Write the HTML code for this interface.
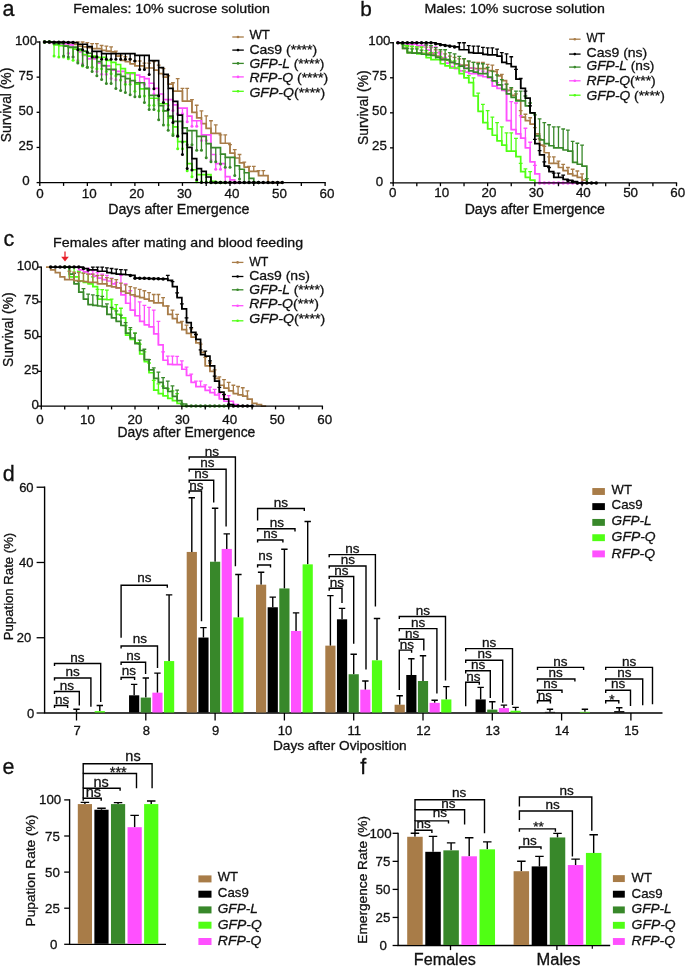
<!DOCTYPE html>
<html><head><meta charset="utf-8"><title>Figure</title>
<style>html,body{margin:0;padding:0;background:#fff}svg{display:block}</style></head>
<body>
<svg width="685" height="966" viewBox="0 0 685 966" font-family="'Liberation Sans', Arial, sans-serif">
<style>text{stroke:#101010;stroke-width:0.3px;paint-order:stroke fill}</style>
<rect width="685" height="966" fill="#ffffff"/>
<path d="M77.84 46.22V42M75.94 42H79.74M82.59 46.92V42M80.69 42H84.5M87.35 47.62V42.7M85.45 42.7H89.25M92.1 48.56V43.64M90.2 43.64H94M96.86 48.56V43.64M94.96 43.64H98.76M101.61 50.44V45.52M99.71 45.52H103.52M106.37 51.14V46.22M104.47 46.22H108.27M111.12 51.84V46.92M109.22 46.92H113.03M115.88 56.06V51.14M113.98 51.14H117.78M120.63 60.28V55.36M118.73 55.36H122.53M125.39 61.68V56.76M123.49 56.76H127.29M130.14 63.79V58.87M128.24 58.87H132.04M134.9 65.9V60.98M133 60.98H136.8M139.66 65.9V60.98M137.75 60.98H141.56M144.41 68.01V63.09M142.51 63.09H146.31M149.16 68.01V63.09M147.26 63.09H151.06M153.92 70.12V61.68M152.02 61.68H155.82M158.68 73.64V65.2M156.78 65.2H160.58M163.43 77.15V68.71M161.53 68.71H165.33M168.19 84.18V75.74M166.28 75.74H170.09M172.94 91.21V82.77M171.04 82.77H174.84M177.69 91.21V78.56M175.79 78.56H179.59M182.45 101.05V88.4M180.55 88.4H184.35M187.2 101.05V88.4M185.3 88.4H189.1M191.96 112.3V99.65M190.06 99.65H193.86M196.71 117.92V105.27M194.81 105.27H198.61M201.47 123.55V110.89M199.57 110.89H203.37M206.22 128.47V115.81M204.32 115.81H208.12M210.98 133.39V120.74M209.08 120.74H212.88M215.74 133.39V124.95M213.84 124.95H217.64M220.49 143.23V134.8M218.59 134.8H222.39M225.25 143.23V134.8M223.34 134.8H227.15M230 153.07V144.64M228.1 144.64H231.9M234.75 158V149.56M232.85 149.56H236.66M239.51 162.92V154.48M237.61 154.48H241.41M244.26 167.13V162.21M242.36 162.21H246.16M249.02 171.35V166.43M247.12 166.43H250.92M253.77 171.35V166.43M251.87 166.43H255.67M258.53 175.57V170.65M256.63 170.65H260.43M263.28 175.57V170.65M261.38 170.65H265.18" stroke="#A87C48" stroke-width="1.3" fill="none" stroke-linejoin="miter"/>
<path d="M44.55 42H49.31V42.35H54.06V42.7H58.82V42.7H63.57V43.41H68.33V44.34H73.08V44.34H77.84V46.22H82.59V46.92H87.35V47.62H92.1V48.56H96.86V48.56H101.61V50.44H106.37V51.14H111.12V51.84H115.88V56.06H120.63V60.28H125.39V61.68H130.14V63.79H134.9V65.9H139.66V65.9H144.41V68.01H149.16V68.01H153.92V70.12H158.68V73.64H163.43V77.15H168.19V84.18H172.94V91.21H177.69V91.21H182.45V101.05H187.2V101.05H191.96V112.3H196.71V117.92H201.47V123.55H206.22V128.47H210.98V133.39H215.74V133.39H220.49V143.23H225.25V143.23H230V153.07H234.75V158H239.51V162.92H244.26V167.13H249.02V171.35H253.77V171.35H258.53V175.57H263.28V175.57H268.04V182.6H272.8V182.6H277.55V182.6H282.31V182.6" stroke="#A87C48" stroke-width="1.7" fill="none" stroke-linejoin="miter"/>
<circle cx="44.55" cy="42" r="1.75" fill="#FF50FF"/>
<circle cx="49.31" cy="42.56" r="1.75" fill="#FF50FF"/>
<circle cx="54.06" cy="42.56" r="1.75" fill="#FF50FF"/>
<circle cx="58.82" cy="43.69" r="1.75" fill="#FF50FF"/>
<circle cx="63.57" cy="43.69" r="1.75" fill="#FF50FF"/>
<circle cx="68.33" cy="53.25" r="1.5" fill="#FF50FF"/>
<circle cx="73.08" cy="56.76" r="1.5" fill="#FF50FF"/>
<circle cx="77.84" cy="60.28" r="1.5" fill="#FF50FF"/>
<circle cx="82.59" cy="63.79" r="1.5" fill="#FF50FF"/>
<circle cx="87.35" cy="67.31" r="1.5" fill="#FF50FF"/>
<circle cx="92.1" cy="67.31" r="1.5" fill="#FF50FF"/>
<circle cx="96.86" cy="71.53" r="1.5" fill="#FF50FF"/>
<circle cx="101.61" cy="74.34" r="1.5" fill="#FF50FF"/>
<circle cx="106.37" cy="74.34" r="1.5" fill="#FF50FF"/>
<circle cx="111.12" cy="78.56" r="1.5" fill="#FF50FF"/>
<circle cx="115.88" cy="79.73" r="1.5" fill="#FF50FF"/>
<circle cx="120.63" cy="79.73" r="1.5" fill="#FF50FF"/>
<circle cx="125.39" cy="82.07" r="1.5" fill="#FF50FF"/>
<circle cx="130.14" cy="82.07" r="1.5" fill="#FF50FF"/>
<circle cx="134.9" cy="80.67" r="1.5" fill="#FF50FF"/>
<circle cx="139.66" cy="82.42" r="1.5" fill="#FF50FF"/>
<circle cx="144.41" cy="84.18" r="1.5" fill="#FF50FF"/>
<circle cx="149.16" cy="88.87" r="1.5" fill="#FF50FF"/>
<circle cx="153.92" cy="94.02" r="1.5" fill="#FF50FF"/>
<circle cx="158.68" cy="99.65" r="1.5" fill="#FF50FF"/>
<circle cx="163.43" cy="105.27" r="1.5" fill="#FF50FF"/>
<circle cx="168.19" cy="105.27" r="1.5" fill="#FF50FF"/>
<circle cx="172.94" cy="110.54" r="1.5" fill="#FF50FF"/>
<circle cx="177.69" cy="113.81" r="1.5" fill="#FF50FF"/>
<circle cx="182.45" cy="113.81" r="1.5" fill="#FF50FF"/>
<circle cx="187.2" cy="121.67" r="1.5" fill="#FF50FF"/>
<circle cx="191.96" cy="126.36" r="1.5" fill="#FF50FF"/>
<circle cx="196.71" cy="126.36" r="1.5" fill="#FF50FF"/>
<circle cx="201.47" cy="140.42" r="1.5" fill="#FF50FF"/>
<circle cx="206.22" cy="140.42" r="1.5" fill="#FF50FF"/>
<circle cx="210.98" cy="160.1" r="1.5" fill="#FF50FF"/>
<circle cx="215.74" cy="169.24" r="1.5" fill="#FF50FF"/>
<circle cx="220.49" cy="169.24" r="1.5" fill="#FF50FF"/>
<circle cx="225.25" cy="182.34" r="1.5" fill="#FF50FF"/>
<circle cx="230" cy="182.6" r="1.5" fill="#FF50FF"/>
<circle cx="234.75" cy="182.6" r="1.75" fill="#FF50FF"/>
<circle cx="239.51" cy="182.6" r="1.75" fill="#FF50FF"/>
<path d="M68.33 44.81V53.25M73.08 48.33V56.76M77.84 51.84V60.28M82.59 55.36V63.79M87.35 58.87V67.31M92.1 58.87V67.31M96.86 63.09V71.53M101.61 65.9V74.34M106.37 65.9V74.34M111.12 70.12V78.56M115.88 71.29V79.73M120.63 71.29V79.73M125.39 73.64V82.07M130.14 73.64V82.07M134.9 75.04V80.67M139.66 76.8V82.42M144.41 78.56V84.18M149.16 83.24V88.87M153.92 88.4V94.02M158.68 94.02V99.65M163.43 99.65V105.27M168.19 99.65V105.27M172.94 104.92V110.54M177.69 108.18V113.81M182.45 108.18V113.81M187.2 116.05V121.67M191.96 120.74V126.36M196.71 120.74V126.36M201.47 134.8V140.42M206.22 134.8V140.42M210.98 154.48V160.1M215.74 163.62V169.24M220.49 163.62V169.24M225.25 176.71V182.34M230 179.79V182.6" stroke="#FF50FF" stroke-width="1.3" fill="none" stroke-linejoin="miter"/>
<path d="M44.55 42H49.31V42.56H54.06V42.56H58.82V43.69H63.57V43.69H68.33V44.81H73.08V48.33H77.84V51.84H82.59V55.36H87.35V58.87H92.1V58.87H96.86V63.09H101.61V65.9H106.37V65.9H111.12V70.12H115.88V71.29H120.63V71.29H125.39V73.64H130.14V73.64H134.9V75.04H139.66V76.8H144.41V78.56H149.16V83.24H153.92V88.4H158.68V94.02H163.43V99.65H168.19V99.65H172.94V104.92H177.69V108.18H182.45V108.18H187.2V116.05H191.96V120.74H196.71V120.74H201.47V134.8H206.22V134.8H210.98V154.48H215.74V163.62H220.49V163.62H225.25V176.71H230V179.79H234.75V182.6H239.51V182.6" stroke="#FF50FF" stroke-width="1.7" fill="none" stroke-linejoin="miter"/>
<circle cx="44.55" cy="42" r="1.75" fill="#50FF14"/>
<circle cx="49.31" cy="42" r="1.75" fill="#50FF14"/>
<circle cx="54.06" cy="56.06" r="1.5" fill="#50FF14"/>
<circle cx="58.82" cy="57" r="1.5" fill="#50FF14"/>
<circle cx="63.57" cy="57" r="1.5" fill="#50FF14"/>
<circle cx="68.33" cy="58.87" r="1.5" fill="#50FF14"/>
<circle cx="73.08" cy="60.28" r="1.5" fill="#50FF14"/>
<circle cx="77.84" cy="61.68" r="1.5" fill="#50FF14"/>
<circle cx="82.59" cy="65.9" r="1.5" fill="#50FF14"/>
<circle cx="87.35" cy="67.31" r="1.5" fill="#50FF14"/>
<circle cx="92.1" cy="67.31" r="1.5" fill="#50FF14"/>
<circle cx="96.86" cy="68.71" r="1.5" fill="#50FF14"/>
<circle cx="101.61" cy="68.71" r="1.5" fill="#50FF14"/>
<circle cx="106.37" cy="71.53" r="1.5" fill="#50FF14"/>
<circle cx="111.12" cy="73.64" r="1.5" fill="#50FF14"/>
<circle cx="115.88" cy="75.74" r="1.5" fill="#50FF14"/>
<circle cx="120.63" cy="79.96" r="1.5" fill="#50FF14"/>
<circle cx="125.39" cy="84.18" r="1.5" fill="#50FF14"/>
<circle cx="130.14" cy="84.18" r="1.5" fill="#50FF14"/>
<circle cx="134.9" cy="91.21" r="1.5" fill="#50FF14"/>
<circle cx="139.66" cy="95.9" r="1.5" fill="#50FF14"/>
<circle cx="144.41" cy="95.9" r="1.5" fill="#50FF14"/>
<circle cx="149.16" cy="105.27" r="1.5" fill="#50FF14"/>
<circle cx="153.92" cy="105.27" r="1.5" fill="#50FF14"/>
<circle cx="158.68" cy="110.79" r="1.5" fill="#50FF14"/>
<circle cx="163.43" cy="110.79" r="1.5" fill="#50FF14"/>
<circle cx="168.19" cy="124.95" r="1.5" fill="#50FF14"/>
<circle cx="172.94" cy="133.99" r="1.5" fill="#50FF14"/>
<circle cx="177.69" cy="148.73" r="1.5" fill="#50FF14"/>
<circle cx="182.45" cy="148.73" r="1.5" fill="#50FF14"/>
<circle cx="187.2" cy="170.65" r="1.5" fill="#50FF14"/>
<circle cx="191.96" cy="176.8" r="1.5" fill="#50FF14"/>
<circle cx="196.71" cy="181.7" r="1.5" fill="#50FF14"/>
<circle cx="201.47" cy="181.7" r="1.5" fill="#50FF14"/>
<circle cx="206.22" cy="181.7" r="1.5" fill="#50FF14"/>
<circle cx="210.98" cy="181.38" r="1.75" fill="#50FF14"/>
<circle cx="215.74" cy="182.6" r="1.75" fill="#50FF14"/>
<circle cx="220.49" cy="182.6" r="1.75" fill="#50FF14"/>
<circle cx="225.25" cy="182.6" r="1.75" fill="#50FF14"/>
<path d="M54.06 44.81V56.06M58.82 45.75V57M63.57 45.75V57M68.33 47.62V58.87M73.08 49.03V60.28M77.84 50.44V61.68M82.59 54.65V65.9M87.35 56.06V67.31M92.1 56.06V67.31M96.86 57.47V68.71M101.61 57.47V68.71M106.37 60.28V71.53M111.12 62.39V73.64M115.88 64.5V75.74M120.63 68.71V79.96M125.39 72.93V84.18M130.14 72.93V84.18M134.9 84.18V91.21M139.66 88.87V95.9M144.41 88.87V95.9M149.16 98.24V105.27M153.92 98.24V105.27M158.68 103.76V110.79M163.43 103.76V110.79M168.19 117.92V124.95M172.94 126.96V133.99M177.69 141.7V148.73M182.45 141.7V148.73M187.2 163.62V170.65M191.96 169.77V176.8M196.71 174.67V181.7M201.47 174.67V181.7M206.22 174.67V181.7" stroke="#50FF14" stroke-width="1.3" fill="none" stroke-linejoin="miter"/>
<path d="M44.55 42H49.31V42H54.06V44.81H58.82V45.75H63.57V45.75H68.33V47.62H73.08V49.03H77.84V50.44H82.59V54.65H87.35V56.06H92.1V56.06H96.86V57.47H101.61V57.47H106.37V60.28H111.12V62.39H115.88V64.5H120.63V68.71H125.39V72.93H130.14V72.93H134.9V84.18H139.66V88.87H144.41V88.87H149.16V98.24H153.92V98.24H158.68V103.76H163.43V103.76H168.19V117.92H172.94V126.96H177.69V141.7H182.45V141.7H187.2V163.62H191.96V169.77H196.71V174.67H201.47V174.67H206.22V174.67H210.98V181.38H215.74V182.6H220.49V182.6H225.25V182.6" stroke="#50FF14" stroke-width="1.7" fill="none" stroke-linejoin="miter"/>
<circle cx="44.55" cy="42" r="1.75" fill="#38882A"/>
<circle cx="49.31" cy="42" r="1.75" fill="#38882A"/>
<circle cx="54.06" cy="43.41" r="1.75" fill="#38882A"/>
<circle cx="58.82" cy="43.41" r="1.75" fill="#38882A"/>
<circle cx="63.57" cy="56.06" r="1.5" fill="#38882A"/>
<circle cx="68.33" cy="57" r="1.5" fill="#38882A"/>
<circle cx="73.08" cy="57" r="1.5" fill="#38882A"/>
<circle cx="77.84" cy="63.09" r="1.5" fill="#38882A"/>
<circle cx="82.59" cy="65.2" r="1.5" fill="#38882A"/>
<circle cx="87.35" cy="67.31" r="1.5" fill="#38882A"/>
<circle cx="92.1" cy="71.53" r="1.5" fill="#38882A"/>
<circle cx="96.86" cy="75.74" r="1.5" fill="#38882A"/>
<circle cx="101.61" cy="79.61" r="1.5" fill="#38882A"/>
<circle cx="106.37" cy="83.48" r="1.5" fill="#38882A"/>
<circle cx="111.12" cy="83.48" r="1.5" fill="#38882A"/>
<circle cx="115.88" cy="88.4" r="1.5" fill="#38882A"/>
<circle cx="120.63" cy="90.51" r="1.5" fill="#38882A"/>
<circle cx="125.39" cy="92.62" r="1.5" fill="#38882A"/>
<circle cx="130.14" cy="94.72" r="1.5" fill="#38882A"/>
<circle cx="134.9" cy="96.83" r="1.5" fill="#38882A"/>
<circle cx="139.66" cy="96.83" r="1.5" fill="#38882A"/>
<circle cx="144.41" cy="102.46" r="1.5" fill="#38882A"/>
<circle cx="149.16" cy="109.49" r="1.5" fill="#38882A"/>
<circle cx="153.92" cy="109.49" r="1.5" fill="#38882A"/>
<circle cx="158.68" cy="119.8" r="1.5" fill="#38882A"/>
<circle cx="163.43" cy="124.95" r="1.5" fill="#38882A"/>
<circle cx="168.19" cy="130.23" r="1.5" fill="#38882A"/>
<circle cx="172.94" cy="135.5" r="1.5" fill="#38882A"/>
<circle cx="177.69" cy="135.5" r="1.5" fill="#38882A"/>
<circle cx="182.45" cy="141.93" r="1.5" fill="#38882A"/>
<circle cx="187.2" cy="144.64" r="1.5" fill="#38882A"/>
<circle cx="191.96" cy="144.64" r="1.5" fill="#38882A"/>
<circle cx="196.71" cy="150.37" r="1.5" fill="#38882A"/>
<circle cx="201.47" cy="150.37" r="1.5" fill="#38882A"/>
<circle cx="206.22" cy="157.64" r="1.5" fill="#38882A"/>
<circle cx="210.98" cy="161.7" r="1.5" fill="#38882A"/>
<circle cx="215.74" cy="161.7" r="1.5" fill="#38882A"/>
<circle cx="220.49" cy="164.01" r="1.5" fill="#38882A"/>
<circle cx="225.25" cy="167.13" r="1.5" fill="#38882A"/>
<circle cx="230" cy="167.13" r="1.5" fill="#38882A"/>
<circle cx="234.75" cy="175.57" r="1.5" fill="#38882A"/>
<circle cx="239.51" cy="179.09" r="1.5" fill="#38882A"/>
<circle cx="244.26" cy="182.6" r="1.5" fill="#38882A"/>
<circle cx="249.02" cy="182.6" r="1.5" fill="#38882A"/>
<circle cx="253.77" cy="182.6" r="1.75" fill="#38882A"/>
<circle cx="258.53" cy="182.6" r="1.75" fill="#38882A"/>
<path d="M63.57 46.22V56.06M68.33 47.16V57M73.08 47.16V57M77.84 49.03V63.09M82.59 51.14V65.2M87.35 53.25V67.31M92.1 57.47V71.53M96.86 61.68V75.74M101.61 65.55V79.61M106.37 69.42V83.48M111.12 69.42V83.48M115.88 74.34V88.4M120.63 76.45V90.51M125.39 78.56V92.62M130.14 80.67V94.72M134.9 82.77V96.83M139.66 82.77V96.83M144.41 88.4V102.46M149.16 95.43V109.49M153.92 95.43V109.49M158.68 105.74V119.8M163.43 110.89V124.95M168.19 116.17V130.23M172.94 121.44V135.5M177.69 121.44V135.5M182.45 127.87V141.93M187.2 130.58V144.64M191.96 130.58V144.64M196.71 136.31V150.37M201.47 136.31V150.37M206.22 143.58V157.64M210.98 147.64V161.7M215.74 147.64V161.7M220.49 154.17V164.01M225.25 157.29V167.13M230 157.29V167.13M234.75 165.73V175.57M239.51 169.24V179.09M244.26 172.76V182.6M249.02 178.38V182.6" stroke="#38882A" stroke-width="1.3" fill="none" stroke-linejoin="miter"/>
<path d="M44.55 42H49.31V42H54.06V43.41H58.82V43.41H63.57V46.22H68.33V47.16H73.08V47.16H77.84V49.03H82.59V51.14H87.35V53.25H92.1V57.47H96.86V61.68H101.61V65.55H106.37V69.42H111.12V69.42H115.88V74.34H120.63V76.45H125.39V78.56H130.14V80.67H134.9V82.77H139.66V82.77H144.41V88.4H149.16V95.43H153.92V95.43H158.68V105.74H163.43V110.89H168.19V116.17H172.94V121.44H177.69V121.44H182.45V127.87H187.2V130.58H191.96V130.58H196.71V136.31H201.47V136.31H206.22V143.58H210.98V147.64H215.74V147.64H220.49V154.17H225.25V157.29H230V157.29H234.75V165.73H239.51V169.24H244.26V172.76H249.02V178.38H253.77V182.6H258.53V182.6" stroke="#38882A" stroke-width="1.7" fill="none" stroke-linejoin="miter"/>
<circle cx="44.55" cy="42" r="1.75" fill="#000000"/>
<circle cx="49.31" cy="42.09" r="1.75" fill="#000000"/>
<circle cx="54.06" cy="42.19" r="1.75" fill="#000000"/>
<circle cx="58.82" cy="42.19" r="1.75" fill="#000000"/>
<circle cx="63.57" cy="42.37" r="1.75" fill="#000000"/>
<circle cx="68.33" cy="42.47" r="1.75" fill="#000000"/>
<circle cx="73.08" cy="42.56" r="1.75" fill="#000000"/>
<circle cx="77.84" cy="49.87" r="1.5" fill="#000000"/>
<circle cx="82.59" cy="49.87" r="1.5" fill="#000000"/>
<circle cx="87.35" cy="52.26" r="1.5" fill="#000000"/>
<circle cx="92.1" cy="56.9" r="1.5" fill="#000000"/>
<circle cx="96.86" cy="56.9" r="1.5" fill="#000000"/>
<circle cx="101.61" cy="59.15" r="1.5" fill="#000000"/>
<circle cx="106.37" cy="59.15" r="1.5" fill="#000000"/>
<circle cx="111.12" cy="59.15" r="1.5" fill="#000000"/>
<circle cx="115.88" cy="59.15" r="1.5" fill="#000000"/>
<circle cx="120.63" cy="59.15" r="1.5" fill="#000000"/>
<circle cx="125.39" cy="59.15" r="1.5" fill="#000000"/>
<circle cx="130.14" cy="59.15" r="1.5" fill="#000000"/>
<circle cx="134.9" cy="60.98" r="1.5" fill="#000000"/>
<circle cx="139.66" cy="69.42" r="1.5" fill="#000000"/>
<circle cx="144.41" cy="69.42" r="1.5" fill="#000000"/>
<circle cx="149.16" cy="74.62" r="1.5" fill="#000000"/>
<circle cx="153.92" cy="88.68" r="1.5" fill="#000000"/>
<circle cx="158.68" cy="95.71" r="1.5" fill="#000000"/>
<circle cx="163.43" cy="102.46" r="1.5" fill="#000000"/>
<circle cx="168.19" cy="109.49" r="1.5" fill="#000000"/>
<circle cx="172.94" cy="122.56" r="1.5" fill="#000000"/>
<circle cx="177.69" cy="136.2" r="1.5" fill="#000000"/>
<circle cx="182.45" cy="154.48" r="1.5" fill="#000000"/>
<circle cx="187.2" cy="168.54" r="1.5" fill="#000000"/>
<circle cx="191.96" cy="169.95" r="1.5" fill="#000000"/>
<circle cx="196.71" cy="179.79" r="1.5" fill="#000000"/>
<circle cx="201.47" cy="182.6" r="1.5" fill="#000000"/>
<circle cx="206.22" cy="182.6" r="1.5" fill="#000000"/>
<circle cx="210.98" cy="182.6" r="1.75" fill="#000000"/>
<circle cx="215.74" cy="182.6" r="1.75" fill="#000000"/>
<circle cx="220.49" cy="182.6" r="1.75" fill="#000000"/>
<circle cx="225.25" cy="182.6" r="1.75" fill="#000000"/>
<circle cx="230" cy="182.6" r="1.75" fill="#000000"/>
<circle cx="234.75" cy="182.6" r="1.75" fill="#000000"/>
<circle cx="239.51" cy="182.6" r="1.75" fill="#000000"/>
<circle cx="244.26" cy="182.6" r="1.75" fill="#000000"/>
<circle cx="249.02" cy="182.6" r="1.75" fill="#000000"/>
<circle cx="253.77" cy="182.6" r="1.75" fill="#000000"/>
<circle cx="258.53" cy="182.6" r="1.75" fill="#000000"/>
<circle cx="263.28" cy="182.6" r="1.75" fill="#000000"/>
<circle cx="268.04" cy="182.6" r="1.75" fill="#000000"/>
<circle cx="272.8" cy="182.6" r="1.75" fill="#000000"/>
<circle cx="277.55" cy="182.6" r="1.75" fill="#000000"/>
<circle cx="282.31" cy="182.6" r="1.75" fill="#000000"/>
<path d="M77.84 44.25V49.87M82.59 44.25V49.87M87.35 46.64V52.26M92.1 51.28V56.9M96.86 51.28V56.9M101.61 53.53V59.15M106.37 53.53V59.15M111.12 53.53V59.15M115.88 53.53V59.15M120.63 53.53V59.15M125.39 53.53V59.15M130.14 53.53V59.15M134.9 55.36V60.98M139.66 55.36V69.42M144.41 55.36V69.42M149.16 60.56V74.62M153.92 60.56V88.68M158.68 67.59V95.71M163.43 74.34V102.46M168.19 88.4V109.49M172.94 101.47V122.56M177.69 115.11V136.2M182.45 133.39V154.48M187.2 147.45V168.54M191.96 158.7V169.95M196.71 168.54V179.79M201.47 171.35V182.6M206.22 176.98V182.6" stroke="#000000" stroke-width="1.3" fill="none" stroke-linejoin="miter"/>
<path d="M44.55 42H49.31V42.09H54.06V42.19H58.82V42.19H63.57V42.37H68.33V42.47H73.08V42.56H77.84V44.25H82.59V44.25H87.35V46.64H92.1V51.28H96.86V51.28H101.61V53.53H106.37V53.53H111.12V53.53H115.88V53.53H120.63V53.53H125.39V53.53H130.14V53.53H134.9V55.36H139.66V55.36H144.41V55.36H149.16V60.56H153.92V60.56H158.68V67.59H163.43V74.34H168.19V88.4H172.94V101.47H177.69V115.11H182.45V133.39H187.2V147.45H191.96V158.7H196.71V168.54H201.47V171.35H206.22V176.98H210.98V182.6H215.74V182.6H220.49V182.6H225.25V182.6H230V182.6H234.75V182.6H239.51V182.6H244.26V182.6H249.02V182.6H253.77V182.6H258.53V182.6H263.28V182.6H268.04V182.6H272.8V182.6H277.55V182.6H282.31V182.6" stroke="#000000" stroke-width="1.7" fill="none" stroke-linejoin="miter"/>
<path d="M39.8 41.35V182.6H325.75" stroke="#000000" stroke-width="1.35" fill="none" stroke-linejoin="miter"/>
<line x1="36.6" y1="182.6" x2="39.8" y2="182.6" stroke="#000000" stroke-width="1.3"/>
<text x="26" y="185.2" font-size="13.3" text-anchor="middle" fill="#101010">0</text>
<line x1="36.6" y1="147.45" x2="39.8" y2="147.45" stroke="#000000" stroke-width="1.3"/>
<text x="26" y="150.05" font-size="13.3" text-anchor="middle" fill="#101010">25</text>
<line x1="36.6" y1="112.3" x2="39.8" y2="112.3" stroke="#000000" stroke-width="1.3"/>
<text x="26" y="114.9" font-size="13.3" text-anchor="middle" fill="#101010">50</text>
<line x1="36.6" y1="77.15" x2="39.8" y2="77.15" stroke="#000000" stroke-width="1.3"/>
<text x="26" y="79.75" font-size="13.3" text-anchor="middle" fill="#101010">75</text>
<line x1="36.6" y1="42" x2="39.8" y2="42" stroke="#000000" stroke-width="1.3"/>
<text x="26" y="44.6" font-size="13.3" text-anchor="middle" fill="#101010">100</text>
<line x1="39.8" y1="182.6" x2="39.8" y2="185.9" stroke="#000000" stroke-width="1.3"/>
<text x="39.9" y="197.5" font-size="13.4" text-anchor="middle" fill="#101010">0</text>
<line x1="63.57" y1="182.6" x2="63.57" y2="185.9" stroke="#000000" stroke-width="1.3"/>
<line x1="87.35" y1="182.6" x2="87.35" y2="185.9" stroke="#000000" stroke-width="1.3"/>
<text x="89.25" y="197.5" font-size="13.4" text-anchor="middle" fill="#101010">10</text>
<line x1="111.12" y1="182.6" x2="111.12" y2="185.9" stroke="#000000" stroke-width="1.3"/>
<line x1="134.9" y1="182.6" x2="134.9" y2="185.9" stroke="#000000" stroke-width="1.3"/>
<text x="136.8" y="197.5" font-size="13.4" text-anchor="middle" fill="#101010">20</text>
<line x1="158.68" y1="182.6" x2="158.68" y2="185.9" stroke="#000000" stroke-width="1.3"/>
<line x1="182.45" y1="182.6" x2="182.45" y2="185.9" stroke="#000000" stroke-width="1.3"/>
<text x="184.35" y="197.5" font-size="13.4" text-anchor="middle" fill="#101010">30</text>
<line x1="206.22" y1="182.6" x2="206.22" y2="185.9" stroke="#000000" stroke-width="1.3"/>
<line x1="230" y1="182.6" x2="230" y2="185.9" stroke="#000000" stroke-width="1.3"/>
<text x="231.9" y="197.5" font-size="13.4" text-anchor="middle" fill="#101010">40</text>
<line x1="253.77" y1="182.6" x2="253.77" y2="185.9" stroke="#000000" stroke-width="1.3"/>
<line x1="277.55" y1="182.6" x2="277.55" y2="185.9" stroke="#000000" stroke-width="1.3"/>
<text x="279.45" y="197.5" font-size="13.4" text-anchor="middle" fill="#101010">50</text>
<line x1="301.32" y1="182.6" x2="301.32" y2="185.9" stroke="#000000" stroke-width="1.3"/>
<line x1="325.1" y1="182.6" x2="325.1" y2="185.9" stroke="#000000" stroke-width="1.3"/>
<text x="327" y="197.5" font-size="13.4" text-anchor="middle" fill="#101010">60</text>
<text x="10.5" y="105" font-size="14" text-anchor="middle" transform="rotate(-90 10.5 105)" textLength="74.5" lengthAdjust="spacingAndGlyphs" fill="#101010">Survival (%)</text>
<text x="178.8" y="213.9" font-size="14" text-anchor="middle" textLength="141.3" lengthAdjust="spacingAndGlyphs" fill="#101010">Days after Emergence</text>
<text x="2.6" y="15.9" font-size="21.5" fill="#101010">a</text>
<text x="73.2" y="13.3" font-size="13.5" textLength="196.8" lengthAdjust="spacingAndGlyphs" fill="#101010">Females: 10% sucrose solution</text>
<line x1="232.3" y1="37" x2="243.8" y2="37" stroke="#A87C48" stroke-width="1.3"/>
<circle cx="238" cy="37" r="1.3" fill="#A87C48"/>
<text x="249.4" y="39.3" font-size="13.5" fill="#101010" textLength="20.5" lengthAdjust="spacingAndGlyphs"><tspan>WT</tspan></text>
<line x1="232.3" y1="50.1" x2="243.8" y2="50.1" stroke="#000000" stroke-width="1.3"/>
<circle cx="238" cy="50.1" r="1.3" fill="#000000"/>
<text x="249.4" y="53.6" font-size="13.5" fill="#101010" textLength="67.8" lengthAdjust="spacingAndGlyphs"><tspan>Cas9</tspan> (****)</text>
<line x1="232.3" y1="63.4" x2="243.8" y2="63.4" stroke="#38882A" stroke-width="1.3"/>
<circle cx="238" cy="63.4" r="1.3" fill="#38882A"/>
<text x="249.4" y="67.7" font-size="13.5" fill="#101010" textLength="75" lengthAdjust="spacingAndGlyphs"><tspan font-style="italic">GFP-L</tspan> (****)</text>
<line x1="232.3" y1="76.9" x2="243.8" y2="76.9" stroke="#FF50FF" stroke-width="1.3"/>
<circle cx="238" cy="76.9" r="1.3" fill="#FF50FF"/>
<text x="249.4" y="82.2" font-size="13.5" fill="#101010" textLength="78.8" lengthAdjust="spacingAndGlyphs"><tspan font-style="italic">RFP-Q</tspan> (****)</text>
<line x1="232.3" y1="91.3" x2="243.8" y2="91.3" stroke="#50FF14" stroke-width="1.3"/>
<circle cx="238" cy="91.3" r="1.3" fill="#50FF14"/>
<text x="249.4" y="96.6" font-size="13.5" fill="#101010" textLength="75.9" lengthAdjust="spacingAndGlyphs"><tspan font-style="italic">GFP-Q</tspan>(****)</text>
<path d="M407.37 52.56V46.25M405.47 46.25H409.27M412.09 52.84V46.53M410.19 46.53H413.99M416.81 53.12V46.81M414.91 46.81H418.71M421.53 53.4V47.09M419.63 47.09H423.43M426.25 53.4V47.09M424.35 47.09H428.15M430.98 53.96V47.66M429.08 47.66H432.88M435.7 56.06V49.76M433.8 49.76H437.6M440.42 58.17V51.86M438.52 51.86H442.32M445.14 60.27V53.96M443.24 53.96H447.04M449.86 62.37V56.06M447.96 56.06H451.76M454.59 63.77V57.47M452.69 57.47H456.49M459.31 65.17V58.87M457.41 58.87H461.21M464.03 65.17V58.87M462.13 58.87H465.93M468.75 67.98V61.67M466.85 61.67H470.65M473.47 68.65V62.34M471.57 62.34H475.37M478.2 68.65V62.34M476.3 62.34H480.1M482.92 68.65V62.34M481.02 62.34H484.82M487.64 70.67V64.36M485.74 64.36H489.54M492.36 71.34V65.03M490.46 65.03H494.26M497.08 75.97V69.66M495.18 69.66H498.98M501.81 80.59V74.28M499.91 74.28H503.71M506.53 90.4V84.09M504.63 84.09H508.43M511.25 95.31V89M509.35 89H513.15M515.97 100.21V93.9M514.07 93.9H517.87M520.69 117.03V110.72M518.79 110.72H522.59M525.42 120.53V114.23M523.52 114.23H527.32M530.14 124.04V117.73M528.24 117.73H532.04M534.86 133.85V127.54M532.96 127.54H536.76M539.58 145.06V138.75M537.68 138.75H541.48M544.3 152.77V146.46M542.4 146.46H546.2M549.03 163.28V156.97M547.13 156.97H550.93M553.75 163.28V156.97M551.85 156.97H555.65M558.47 167.48V161.18M556.57 161.18H560.37M563.19 170.64V164.33M561.29 164.33H565.09M567.91 173.79V167.48M566.01 167.48H569.81M572.64 175.54V169.24M570.74 169.24H574.54M577.36 177.29V170.99M575.46 170.99H579.26M582.08 180.1V173.79M580.18 173.79H583.98" stroke="#A87C48" stroke-width="1.3" fill="none" stroke-linejoin="miter"/>
<path d="M397.92 42.75H402.64V48.36H407.37V52.56H412.09V52.84H416.81V53.12H421.53V53.4H426.25V53.4H430.98V53.96H435.7V56.06H440.42V58.17H445.14V60.27H449.86V62.37H454.59V63.77H459.31V65.17H464.03V65.17H468.75V67.98H473.47V68.65H478.2V68.65H482.92V68.65H487.64V70.67H492.36V71.34H497.08V75.97H501.81V80.59H506.53V90.4H511.25V95.31H515.97V100.21H520.69V117.03H525.42V120.53H530.14V124.04H534.86V133.85H539.58V145.06H544.3V152.77H549.03V163.28H553.75V163.28H558.47V167.48H563.19V170.64H567.91V173.79H572.64V175.54H577.36V177.29H582.08V180.1H586.8V182.9" stroke="#A87C48" stroke-width="1.7" fill="none" stroke-linejoin="miter"/>
<circle cx="397.92" cy="42.75" r="1.75" fill="#FF50FF"/>
<circle cx="402.64" cy="43.45" r="1.75" fill="#FF50FF"/>
<circle cx="407.37" cy="44.15" r="1.75" fill="#FF50FF"/>
<circle cx="412.09" cy="44.15" r="1.75" fill="#FF50FF"/>
<circle cx="539.58" cy="182.9" r="1.75" fill="#FF50FF"/>
<circle cx="544.3" cy="182.9" r="1.75" fill="#FF50FF"/>
<circle cx="549.03" cy="182.9" r="1.75" fill="#FF50FF"/>
<circle cx="553.75" cy="182.9" r="1.75" fill="#FF50FF"/>
<circle cx="558.47" cy="182.9" r="1.75" fill="#FF50FF"/>
<circle cx="563.19" cy="182.9" r="1.75" fill="#FF50FF"/>
<circle cx="567.91" cy="182.9" r="1.75" fill="#FF50FF"/>
<circle cx="572.64" cy="182.9" r="1.75" fill="#FF50FF"/>
<circle cx="577.36" cy="182.9" r="1.75" fill="#FF50FF"/>
<circle cx="582.08" cy="182.9" r="1.75" fill="#FF50FF"/>
<path d="M416.81 45.55V42.75M414.91 42.75H418.71M421.53 45.55V42.75M419.63 42.75H423.43M426.25 50.22V44.62M424.35 44.62H428.15M430.98 52.56V46.95M429.08 46.95H432.88M435.7 52.56V46.95M433.8 46.95H437.6M440.42 59.57V53.96M438.52 53.96H442.32M445.14 63.07V57.47M443.24 57.47H447.04M449.86 66.58V60.97M447.96 60.97H451.76M454.59 68.68V63.07M452.69 63.07H456.49M459.31 70.78V65.17M457.41 65.17H461.21M464.03 72.18V66.58M462.13 66.58H465.93M468.75 73.58V67.98M466.85 67.98H470.65M473.47 73.58V67.98M471.57 67.98H475.37M478.2 75.69V70.08M476.3 70.08H480.1M482.92 76.74V71.13M481.02 71.13H484.82M487.64 77.79V72.18M485.74 72.18H489.54M492.36 86.2V80.59M490.46 80.59H494.26M497.08 88.3V82.69M495.18 82.69H498.98M501.81 90.4V84.8M499.91 84.8H503.71M506.53 120.53V91.1M504.63 91.1H508.43M511.25 129.64V101.61M509.35 101.61H513.15M515.97 133.85V103.01M514.07 103.01H517.87M520.69 138.05V115.63M518.79 115.63H522.59M525.42 147.86V128.24M523.52 128.24H527.32M530.14 161.88V142.26M528.24 142.26H532.04M534.86 173.79V165.38M532.96 165.38H536.76" stroke="#FF50FF" stroke-width="1.3" fill="none" stroke-linejoin="miter"/>
<path d="M397.92 42.75H402.64V43.45H407.37V44.15H412.09V44.15H416.81V45.55H421.53V45.55H426.25V50.22H430.98V52.56H435.7V52.56H440.42V59.57H445.14V63.07H449.86V66.58H454.59V68.68H459.31V70.78H464.03V72.18H468.75V73.58H473.47V73.58H478.2V75.69H482.92V76.74H487.64V77.79H492.36V86.2H497.08V88.3H501.81V90.4H506.53V120.53H511.25V129.64H515.97V133.85H520.69V138.05H525.42V147.86H530.14V161.88H534.86V173.79H539.58V182.9H544.3V182.9H549.03V182.9H553.75V182.9H558.47V182.9H563.19V182.9H567.91V182.9H572.64V182.9H577.36V182.9H582.08V182.9" stroke="#FF50FF" stroke-width="1.7" fill="none" stroke-linejoin="miter"/>
<path d="M397.92 42.75V42.75M396.02 42.75H399.82M402.64 45.55V42.75M400.74 42.75H404.54M407.37 52.56V45.55M405.47 45.55H409.27M412.09 53.26V46.25M410.19 46.25H413.99M416.81 53.96V46.95M414.91 46.95H418.71M421.53 53.96V46.95M419.63 46.95H423.43M426.25 57.7V50.69M424.35 50.69H428.15M430.98 59.57V52.56M429.08 52.56H432.88M435.7 59.57V52.56M433.8 52.56H437.6M440.42 63.77V56.77M438.52 56.77H442.32M445.14 65.87V58.87M443.24 58.87H447.04M449.86 67.98V60.97M447.96 60.97H451.76M454.59 67.98V60.97M452.69 60.97H456.49M459.31 73.58V66.58M457.41 66.58H461.21M464.03 77.79V70.78M462.13 70.78H465.93M468.75 82.69V75.69M466.85 75.69H470.65M473.47 96.01V77.79M471.57 77.79H475.37M478.2 111.42V93.2M476.3 93.2H480.1M482.92 122.64V104.42M481.02 104.42H484.82M487.64 128.94V110.72M485.74 110.72H489.54M492.36 135.25V117.03M490.46 117.03H494.26M497.08 140.86V122.64M495.18 122.64H498.98M501.81 145.06V126.84M499.91 126.84H503.71M506.53 151.09V132.87M504.63 132.87H508.43M511.25 151.09V132.87M509.35 132.87H513.15M515.97 156.69V138.47M514.07 138.47H517.87M520.69 171.69V163.28M518.79 163.28H522.59M525.42 177.29V168.88M523.52 168.88H527.32M530.14 180.1V171.69M528.24 171.69H532.04" stroke="#50FF14" stroke-width="1.3" fill="none" stroke-linejoin="miter"/>
<path d="M397.92 42.75H402.64V45.55H407.37V52.56H412.09V53.26H416.81V53.96H421.53V53.96H426.25V57.7H430.98V59.57H435.7V59.57H440.42V63.77H445.14V65.87H449.86V67.98H454.59V67.98H459.31V73.58H464.03V77.79H468.75V82.69H473.47V96.01H478.2V111.42H482.92V122.64H487.64V128.94H492.36V135.25H497.08V140.86H501.81V145.06H506.53V151.09H511.25V151.09H515.97V156.69H520.69V171.69H525.42V177.29H530.14V180.1H534.86V182.9" stroke="#50FF14" stroke-width="1.7" fill="none" stroke-linejoin="miter"/>
<path d="M397.92 42.75V42.75M396.02 42.75H399.82M402.64 48.36V44.15M400.74 44.15H404.54M407.37 52.56V48.36M405.47 48.36H409.27M412.09 53.12V48.92M410.19 48.92H413.99M416.81 53.12V48.92M414.91 48.92H418.71M421.53 54.24V50.04M419.63 50.04H423.43M426.25 54.8V44.99M424.35 44.99H428.15M430.98 55.36V45.55M429.08 45.55H432.88M435.7 57.47V47.66M433.8 47.66H437.6M440.42 59.57V49.76M438.52 49.76H442.32M445.14 59.57V49.76M443.24 49.76H447.04M449.86 62.37V52.56M447.96 52.56H451.76M454.59 63.77V53.96M452.69 53.96H456.49M459.31 66.11V56.3M457.41 56.3H461.21M464.03 68.44V58.63M462.13 58.63H465.93M468.75 70.78V60.97M466.85 60.97H470.65M473.47 72.18V62.37M471.57 62.37H475.37M478.2 73.58V63.77M476.3 63.77H480.1M482.92 73.58V63.77M481.02 63.77H484.82M487.64 77.09V67.28M485.74 67.28H489.54M492.36 80.94V71.13M490.46 71.13H494.26M497.08 84.8V74.98M495.18 74.98H498.98M501.81 89.35V79.54M499.91 79.54H503.71M506.53 93.9V84.09M504.63 84.09H508.43M511.25 97.41V87.6M509.35 87.6H513.15M515.97 100.91V91.1M514.07 91.1H517.87M520.69 100.91V91.1M518.79 91.1H522.59M525.42 105.82V96.01M523.52 96.01H527.32M530.14 112.83V103.01M528.24 103.01H532.04M534.86 135.95V114.93M532.96 114.93H536.76M539.58 139.8V118.78M537.68 118.78H541.48M544.3 143.66V122.64M542.4 122.64H546.2M549.03 145.76V124.74M547.13 124.74H550.93M553.75 147.86V126.84M551.85 126.84H555.65M558.47 147.86V126.84M556.57 126.84H560.37M563.19 150.01V128.99M561.29 128.99H565.09M567.91 151.09V130.06M566.01 130.06H569.81M572.64 162.44V141.42M570.74 141.42H574.54M577.36 164.26V143.24M575.46 143.24H579.26M582.08 166.08V145.06M580.18 145.06H583.98M586.8 182.9V178.7M584.9 178.7H588.7" stroke="#38882A" stroke-width="1.3" fill="none" stroke-linejoin="miter"/>
<path d="M397.92 42.75H402.64V48.36H407.37V52.56H412.09V53.12H416.81V53.12H421.53V54.24H426.25V54.8H430.98V55.36H435.7V57.47H440.42V59.57H445.14V59.57H449.86V62.37H454.59V63.77H459.31V66.11H464.03V68.44H468.75V70.78H473.47V72.18H478.2V73.58H482.92V73.58H487.64V77.09H492.36V80.94H497.08V84.8H501.81V89.35H506.53V93.9H511.25V97.41H515.97V100.91H520.69V100.91H525.42V105.82H530.14V112.83H534.86V135.95H539.58V139.8H544.3V143.66H549.03V145.76H553.75V147.86H558.47V147.86H563.19V150.01H567.91V151.09H572.64V162.44H577.36V164.26H582.08V166.08H586.8V182.9" stroke="#38882A" stroke-width="1.7" fill="none" stroke-linejoin="miter"/>
<circle cx="397.92" cy="42.75" r="1.75" fill="#000000"/>
<circle cx="402.64" cy="42.75" r="1.75" fill="#000000"/>
<circle cx="407.37" cy="42.75" r="1.75" fill="#000000"/>
<circle cx="412.09" cy="42.75" r="1.75" fill="#000000"/>
<circle cx="416.81" cy="42.75" r="1.75" fill="#000000"/>
<circle cx="421.53" cy="42.75" r="1.75" fill="#000000"/>
<circle cx="426.25" cy="42.75" r="1.75" fill="#000000"/>
<circle cx="430.98" cy="42.75" r="1.75" fill="#000000"/>
<circle cx="435.7" cy="43.8" r="1.75" fill="#000000"/>
<circle cx="440.42" cy="44.85" r="1.75" fill="#000000"/>
<circle cx="445.14" cy="45.55" r="1.75" fill="#000000"/>
<circle cx="449.86" cy="46.25" r="1.75" fill="#000000"/>
<circle cx="454.59" cy="46.95" r="1.75" fill="#000000"/>
<circle cx="567.91" cy="180.38" r="1.75" fill="#000000"/>
<circle cx="572.64" cy="181.64" r="1.75" fill="#000000"/>
<circle cx="577.36" cy="182.9" r="1.75" fill="#000000"/>
<circle cx="582.08" cy="182.9" r="1.75" fill="#000000"/>
<circle cx="586.8" cy="182.9" r="1.75" fill="#000000"/>
<circle cx="591.52" cy="182.9" r="1.75" fill="#000000"/>
<circle cx="596.25" cy="182.9" r="1.75" fill="#000000"/>
<path d="M459.31 49.76V42.75M457.41 42.75H461.21M464.03 49.76V42.75M462.13 42.75H465.93M468.75 52.56V45.55M466.85 45.55H470.65M473.47 53.14V46.14M471.57 46.14H475.37M478.2 53.14V46.14M476.3 46.14H480.1M482.92 54.31V47.3M481.02 47.3H484.82M487.64 54.9V47.89M485.74 47.89H489.54M492.36 54.9V47.89M490.46 47.89H494.26M497.08 56.06V49.06M495.18 49.06H498.98M501.81 62.37V52.56M499.91 52.56H503.71M506.53 63.77V53.96M504.63 53.96H508.43M511.25 66.58V56.77M509.35 56.77H513.15M515.97 79.19V69.38M514.07 69.38H517.87M520.69 88.3V78.49M518.79 78.49H522.59M525.42 98.11V91.1M523.52 91.1H527.32M530.14 112.83V105.82M528.24 105.82H532.04M534.86 143.66V139.45M532.96 139.45H536.76M539.58 154.87V150.67M537.68 150.67H541.48M544.3 166.08V161.88M542.4 161.88H546.2M549.03 171.69V167.48M547.13 167.48H550.93M553.75 177.29V173.09M551.85 173.09H555.65M558.47 177.29V173.09M556.57 173.09H560.37M563.19 179.35V175.15M561.29 175.15H565.09" stroke="#000000" stroke-width="1.3" fill="none" stroke-linejoin="miter"/>
<path d="M397.92 42.75H402.64V42.75H407.37V42.75H412.09V42.75H416.81V42.75H421.53V42.75H426.25V42.75H430.98V42.75H435.7V43.8H440.42V44.85H445.14V45.55H449.86V46.25H454.59V46.95H459.31V49.76H464.03V49.76H468.75V52.56H473.47V53.14H478.2V53.14H482.92V54.31H487.64V54.9H492.36V54.9H497.08V56.06H501.81V62.37H506.53V63.77H511.25V66.58H515.97V79.19H520.69V88.3H525.42V98.11H530.14V112.83H534.86V143.66H539.58V154.87H544.3V166.08H549.03V171.69H553.75V177.29H558.47V177.29H563.19V179.35H567.91V180.38H572.64V181.64H577.36V182.9H582.08V182.9H586.8V182.9H591.52V182.9H596.25V182.9" stroke="#000000" stroke-width="1.7" fill="none" stroke-linejoin="miter"/>
<path d="M393.2 42.1V182.9H677.17" stroke="#000000" stroke-width="1.35" fill="none" stroke-linejoin="miter"/>
<line x1="390" y1="182.9" x2="393.2" y2="182.9" stroke="#000000" stroke-width="1.3"/>
<text x="379.4" y="185.5" font-size="13.3" text-anchor="middle" fill="#101010">0</text>
<line x1="390" y1="147.86" x2="393.2" y2="147.86" stroke="#000000" stroke-width="1.3"/>
<text x="379.4" y="150.46" font-size="13.3" text-anchor="middle" fill="#101010">25</text>
<line x1="390" y1="112.83" x2="393.2" y2="112.83" stroke="#000000" stroke-width="1.3"/>
<text x="379.4" y="115.42" font-size="13.3" text-anchor="middle" fill="#101010">50</text>
<line x1="390" y1="77.79" x2="393.2" y2="77.79" stroke="#000000" stroke-width="1.3"/>
<text x="379.4" y="80.39" font-size="13.3" text-anchor="middle" fill="#101010">75</text>
<line x1="390" y1="42.75" x2="393.2" y2="42.75" stroke="#000000" stroke-width="1.3"/>
<text x="379.4" y="45.35" font-size="13.3" text-anchor="middle" fill="#101010">100</text>
<line x1="393.2" y1="182.9" x2="393.2" y2="186.2" stroke="#000000" stroke-width="1.3"/>
<text x="392.8" y="197.2" font-size="13.4" text-anchor="middle" fill="#101010">0</text>
<line x1="416.81" y1="182.9" x2="416.81" y2="186.2" stroke="#000000" stroke-width="1.3"/>
<line x1="440.42" y1="182.9" x2="440.42" y2="186.2" stroke="#000000" stroke-width="1.3"/>
<text x="441.72" y="197.2" font-size="13.4" text-anchor="middle" fill="#101010">10</text>
<line x1="464.03" y1="182.9" x2="464.03" y2="186.2" stroke="#000000" stroke-width="1.3"/>
<line x1="487.64" y1="182.9" x2="487.64" y2="186.2" stroke="#000000" stroke-width="1.3"/>
<text x="488.94" y="197.2" font-size="13.4" text-anchor="middle" fill="#101010">20</text>
<line x1="511.25" y1="182.9" x2="511.25" y2="186.2" stroke="#000000" stroke-width="1.3"/>
<line x1="534.86" y1="182.9" x2="534.86" y2="186.2" stroke="#000000" stroke-width="1.3"/>
<text x="536.16" y="197.2" font-size="13.4" text-anchor="middle" fill="#101010">30</text>
<line x1="558.47" y1="182.9" x2="558.47" y2="186.2" stroke="#000000" stroke-width="1.3"/>
<line x1="582.08" y1="182.9" x2="582.08" y2="186.2" stroke="#000000" stroke-width="1.3"/>
<text x="583.38" y="197.2" font-size="13.4" text-anchor="middle" fill="#101010">40</text>
<line x1="605.69" y1="182.9" x2="605.69" y2="186.2" stroke="#000000" stroke-width="1.3"/>
<line x1="629.3" y1="182.9" x2="629.3" y2="186.2" stroke="#000000" stroke-width="1.3"/>
<text x="630.6" y="197.2" font-size="13.4" text-anchor="middle" fill="#101010">50</text>
<line x1="652.91" y1="182.9" x2="652.91" y2="186.2" stroke="#000000" stroke-width="1.3"/>
<line x1="676.52" y1="182.9" x2="676.52" y2="186.2" stroke="#000000" stroke-width="1.3"/>
<text x="677.82" y="197.2" font-size="13.4" text-anchor="middle" fill="#101010">60</text>
<text x="367.6" y="107.7" font-size="14" text-anchor="middle" transform="rotate(-90 367.6 107.7)" textLength="74.5" lengthAdjust="spacingAndGlyphs" fill="#101010">Survival (%)</text>
<text x="534.8" y="213.8" font-size="14" text-anchor="middle" textLength="140.2" lengthAdjust="spacingAndGlyphs" fill="#101010">Days after Emergence</text>
<text x="360.2" y="15.9" font-size="20.8" fill="#101010">b</text>
<text x="424.4" y="13.3" font-size="13.5" textLength="180.5" lengthAdjust="spacingAndGlyphs" fill="#101010">Males: 10% sucrose solution</text>
<line x1="569.1" y1="39.2" x2="580.6" y2="39.2" stroke="#A87C48" stroke-width="1.3"/>
<circle cx="574.8" cy="39.2" r="1.3" fill="#A87C48"/>
<text x="586.5" y="41.9" font-size="13.5" fill="#101010" textLength="18.5" lengthAdjust="spacingAndGlyphs"><tspan>WT</tspan></text>
<line x1="569.1" y1="54.1" x2="580.6" y2="54.1" stroke="#000000" stroke-width="1.3"/>
<circle cx="574.8" cy="54.1" r="1.3" fill="#000000"/>
<text x="586.5" y="56.5" font-size="13.5" fill="#101010" textLength="60.8" lengthAdjust="spacingAndGlyphs"><tspan>Cas9</tspan> (ns)</text>
<line x1="569.1" y1="67.1" x2="580.6" y2="67.1" stroke="#38882A" stroke-width="1.3"/>
<circle cx="574.8" cy="67.1" r="1.3" fill="#38882A"/>
<text x="586.5" y="70.2" font-size="13.5" fill="#101010" textLength="67.9" lengthAdjust="spacingAndGlyphs"><tspan font-style="italic">GFP-L</tspan> (ns)</text>
<line x1="569.1" y1="80.8" x2="580.6" y2="80.8" stroke="#FF50FF" stroke-width="1.3"/>
<circle cx="574.8" cy="80.8" r="1.3" fill="#FF50FF"/>
<text x="586.5" y="84.8" font-size="13.5" fill="#101010" textLength="69.3" lengthAdjust="spacingAndGlyphs"><tspan font-style="italic">RFP-Q</tspan>(***)</text>
<line x1="569.1" y1="95.2" x2="580.6" y2="95.2" stroke="#50FF14" stroke-width="1.3"/>
<circle cx="574.8" cy="95.2" r="1.3" fill="#50FF14"/>
<text x="586.5" y="100.3" font-size="13.5" fill="#101010" textLength="78.3" lengthAdjust="spacingAndGlyphs"><tspan font-style="italic">GFP-Q</tspan> (****)</text>
<path d="M69.41 276.83V267.1M67.51 267.1H71.31M74.09 276.83V267.1M72.19 267.1H76M78.78 281V271.27M76.88 271.27H80.68M83.47 282.39V272.66M81.56 272.66H85.37M88.15 283.78V274.05M86.25 274.05H90.05M92.83 286.56V276.83M90.93 276.83H94.73M97.52 299.07V289.34M95.62 289.34H99.42M102.2 299.42V289.69M100.3 289.69H104.1M106.89 299.77V290.04M104.99 290.04H108.79M111.57 308.8V299.07M109.67 299.07H113.47M116.26 314.36V304.63M114.36 304.63H118.16M120.94 317.97V308.24M119.04 308.24H122.84M125.63 335.21V325.48M123.73 325.48H127.53M130.31 339.38V329.65M128.41 329.65H132.22M135 342.86V333.12M133.1 333.12H136.9M139.69 353.98V344.25M137.78 344.25H141.59M144.37 361.62V351.89M142.47 351.89H146.27M149.06 372.74V363.01M147.16 363.01H150.96M153.74 390.12V380.39M151.84 380.39H155.64M158.42 393.59V383.86M156.52 383.86H160.32M163.11 395.81V386.08M161.21 386.08H165.01M167.79 398.46V388.73M165.89 388.73H169.69M172.48 400.54V390.81M170.58 390.81H174.38M177.16 403.32V393.59M175.26 393.59H179.06" stroke="#50FF14" stroke-width="1.3" fill="none" stroke-linejoin="miter"/>
<path d="M64.72 267.1H69.41V276.83H74.09V276.83H78.78V281H83.47V282.39H88.15V283.78H92.83V286.56H97.52V299.07H102.2V299.42H106.89V299.77H111.57V308.8H116.26V314.36H120.94V317.97H125.63V335.21H130.31V339.38H135V342.86H139.69V353.98H144.37V361.62H149.06V372.74H153.74V390.12H158.42V393.59H163.11V395.81H167.79V398.46H172.48V400.54H177.16V403.32H181.85V406.1H186.53V406.1" stroke="#50FF14" stroke-width="1.7" fill="none" stroke-linejoin="miter"/>
<circle cx="64.72" cy="267.1" r="1.75" fill="#38882A"/>
<circle cx="181.85" cy="404.02" r="1.75" fill="#38882A"/>
<circle cx="186.53" cy="406.1" r="1.75" fill="#38882A"/>
<circle cx="191.22" cy="406.1" r="1.75" fill="#38882A"/>
<circle cx="195.9" cy="406.1" r="1.75" fill="#38882A"/>
<circle cx="200.59" cy="406.1" r="1.75" fill="#38882A"/>
<circle cx="205.27" cy="406.1" r="1.75" fill="#38882A"/>
<circle cx="209.96" cy="406.1" r="1.75" fill="#38882A"/>
<circle cx="214.64" cy="406.1" r="1.75" fill="#38882A"/>
<circle cx="219.33" cy="406.1" r="1.75" fill="#38882A"/>
<circle cx="224.01" cy="406.1" r="1.75" fill="#38882A"/>
<circle cx="228.7" cy="406.1" r="1.75" fill="#38882A"/>
<path d="M69.41 274.05V267.1M67.51 267.1H71.31M74.09 283.78V273.36M72.19 273.36H76M78.78 292.12V281.7M76.88 281.7H80.68M83.47 299.07V288.65M81.56 288.65H85.37M88.15 304.63V294.21M86.25 294.21H90.05M92.83 305.33V294.9M90.93 294.9H94.73M97.52 306.02V295.6M95.62 295.6H99.42M102.2 306.72V296.29M100.3 296.29H104.1M106.89 314.36V303.94M104.99 303.94H108.79M111.57 317.84V307.41M109.67 307.41H113.47M116.26 321.31V310.89M114.36 310.89H118.16M120.94 325.48V315.06M119.04 315.06H122.84M125.63 333.12V322.7M123.73 322.7H127.53M130.31 337.99V327.57M128.41 327.57H132.22M135 343.55V333.12M133.1 333.12H136.9M139.69 350.5V340.08M137.78 340.08H141.59M144.37 359.67V349.25M142.47 349.25H146.27M149.06 369.96V359.54M147.16 359.54H150.96M153.74 378.3V367.88M151.84 367.88H155.64M158.42 382.47V372.05M156.52 372.05H160.32M163.11 388.03V377.61M161.21 377.61H165.01M167.79 391.5V381.08M165.89 381.08H169.69M172.48 396.37V385.95M170.58 385.95H174.38M177.16 400.54V390.12M175.26 390.12H179.06" stroke="#38882A" stroke-width="1.3" fill="none" stroke-linejoin="miter"/>
<path d="M64.72 267.1H69.41V274.05H74.09V283.78H78.78V292.12H83.47V299.07H88.15V304.63H92.83V305.33H97.52V306.02H102.2V306.72H106.89V314.36H111.57V317.84H116.26V321.31H120.94V325.48H125.63V333.12H130.31V337.99H135V343.55H139.69V350.5H144.37V359.67H149.06V369.96H153.74V378.3H158.42V382.47H163.11V388.03H167.79V391.5H172.48V396.37H177.16V400.54H181.85V404.02H186.53V406.1H191.22V406.1H195.9V406.1H200.59V406.1H205.27V406.1H209.96V406.1H214.64V406.1H219.33V406.1H224.01V406.1H228.7V406.1" stroke="#38882A" stroke-width="1.7" fill="none" stroke-linejoin="miter"/>
<path d="M88.15 274.05V268.49M86.25 268.49H90.05M92.83 276.13V270.58M90.93 270.58H94.73M97.52 278.22V272.66M95.62 272.66H99.42M102.2 279.61V274.05M100.3 274.05H104.1M106.89 281V275.44M104.99 275.44H108.79M111.57 283.78V278.22M109.67 278.22H113.47M116.26 287.95V282.39M114.36 282.39H118.16M120.94 294.9V275.44M119.04 275.44H122.84M125.63 303.24V283.78M123.73 283.78H127.53M130.31 310.19V290.73M128.41 290.73H132.22M135 315.75V296.29M133.1 296.29H136.9M139.69 321.31V301.85M137.78 301.85H141.59M144.37 324.79V305.33M142.47 305.33H146.27M149.06 326.87V307.41M147.16 307.41H150.96M153.74 333.82V310.19M151.84 310.19H155.64M158.42 344.94V321.31M156.52 321.31H160.32M163.11 360.23V351.89M161.21 351.89H165.01M167.79 364.4V356.06M165.89 356.06H169.69M172.48 364.54V356.2M170.58 356.2H174.38M177.16 364.68V356.34M175.26 356.34H179.06M181.85 369.27V360.93M179.95 360.93H183.75M186.53 375.52V367.18M184.63 367.18H188.43M191.22 382.47V374.13M189.32 374.13H193.12M195.9 386.64V381.08M194 381.08H197.8M200.59 386.64V381.08M198.69 381.08H202.49M205.27 390.39V384.83M203.37 384.83H207.17M209.96 392.69V387.13M208.06 387.13H211.86M214.64 394.98V389.42M212.74 389.42H216.54M219.33 398.87V393.31M217.43 393.31H221.23M224.01 401.24V395.68M222.11 395.68H225.91M228.7 401.24V395.68M226.8 395.68H230.6" stroke="#FF50FF" stroke-width="1.3" fill="none" stroke-linejoin="miter"/>
<path d="M74.09 267.1H78.78V269.88H83.47V271.97H88.15V274.05H92.83V276.13H97.52V278.22H102.2V279.61H106.89V281H111.57V283.78H116.26V287.95H120.94V294.9H125.63V303.24H130.31V310.19H135V315.75H139.69V321.31H144.37V324.79H149.06V326.87H153.74V333.82H158.42V344.94H163.11V360.23H167.79V364.4H172.48V364.54H177.16V364.68H181.85V369.27H186.53V375.52H191.22V382.47H195.9V386.64H200.59V386.64H205.27V390.39H209.96V392.69H214.64V394.98H219.33V398.87H224.01V401.24H228.7V401.24H233.38V404.71H238.07V406.1H242.75V406.1H247.44V406.1" stroke="#FF50FF" stroke-width="1.7" fill="none" stroke-linejoin="miter"/>
<path d="M69.41 279.61V271.27M67.51 271.27H71.31M74.09 280.54V272.2M72.19 272.2H76M78.78 281V272.66M76.88 272.66H80.68M83.47 281.7V273.36M81.56 273.36H85.37M88.15 282.39V274.05M86.25 274.05H90.05M92.83 282.39V274.05M90.93 274.05H94.73M97.52 283.78V275.44M95.62 275.44H99.42M102.2 283.78V275.44M100.3 275.44H104.1M106.89 285.87V277.53M104.99 277.53H108.79M111.57 286.91V278.57M109.67 278.57H113.47M116.26 287.95V279.61M114.36 279.61H118.16M120.94 291.43V283.09M119.04 283.09H122.84M125.63 293.16V284.82M123.73 284.82H127.53M130.31 294.9V286.56M128.41 286.56H132.22M135 296.29V287.95M133.1 287.95H136.9M139.69 297.68V289.34M137.78 289.34H141.59M144.37 299.07V290.73M142.47 290.73H146.27M149.06 300.95V292.61M147.16 292.61H150.96M153.74 302.82V294.48M151.84 294.48H155.64M158.42 302.82V294.48M156.52 294.48H160.32M163.11 306.02V297.68M161.21 297.68H165.01M167.79 314.36V306.02M165.89 306.02H169.69M172.48 318.53V310.19M170.58 310.19H174.38M177.16 322.7V314.36M175.26 314.36H179.06M181.85 329.65V321.31M179.95 321.31H183.75M186.53 333.4V325.06M184.63 325.06H188.43M191.22 337.16V328.82M189.32 328.82H193.12M195.9 342.86V334.52M194 334.52H197.8M200.59 352.45V344.11M198.69 344.11H202.49M205.27 365.79V357.45M203.37 357.45H207.17M209.96 371.35V363.01M208.06 363.01H211.86M214.64 378.3V369.96M212.74 369.96H216.54M219.33 385.25V376.91M217.43 376.91H221.23M224.01 388.03V379.69M222.11 379.69H225.91M228.7 390.81V382.47M226.8 382.47H230.6M233.38 393.59V385.25M231.48 385.25H235.28M238.07 394.84V386.5M236.17 386.5H239.97M242.75 396.09V387.75M240.85 387.75H244.66M247.44 399.15V390.81M245.54 390.81H249.34" stroke="#A87C48" stroke-width="1.3" fill="none" stroke-linejoin="miter"/>
<path d="M45.98 267.1H50.67V269.88H55.35V272.66H60.04V276.83H64.72V279.61H69.41V279.61H74.09V280.54H78.78V281H83.47V281.7H88.15V282.39H92.83V282.39H97.52V283.78H102.2V283.78H106.89V285.87H111.57V286.91H116.26V287.95H120.94V291.43H125.63V293.16H130.31V294.9H135V296.29H139.69V297.68H144.37V299.07H149.06V300.95H153.74V302.82H158.42V302.82H163.11V306.02H167.79V314.36H172.48V318.53H177.16V322.7H181.85V329.65H186.53V333.4H191.22V337.16H195.9V342.86H200.59V352.45H205.27V365.79H209.96V371.35H214.64V378.3H219.33V385.25H224.01V388.03H228.7V390.81H233.38V393.59H238.07V394.84H242.75V396.09H247.44V399.15H252.12V403.32H256.81V404.71H261.5V406.1H266.18V406.1" stroke="#A87C48" stroke-width="1.7" fill="none" stroke-linejoin="miter"/>
<circle cx="50.67" cy="267.1" r="1.75" fill="#000000"/>
<circle cx="55.35" cy="267.1" r="1.75" fill="#000000"/>
<circle cx="60.04" cy="267.1" r="1.75" fill="#000000"/>
<circle cx="64.72" cy="267.1" r="1.75" fill="#000000"/>
<circle cx="69.41" cy="267.1" r="1.75" fill="#000000"/>
<circle cx="74.09" cy="267.1" r="1.75" fill="#000000"/>
<circle cx="78.78" cy="267.1" r="1.75" fill="#000000"/>
<circle cx="83.47" cy="268.49" r="1.75" fill="#000000"/>
<circle cx="88.15" cy="269.88" r="1.75" fill="#000000"/>
<circle cx="130.31" cy="275.44" r="1.75" fill="#000000"/>
<circle cx="135" cy="278.22" r="1.75" fill="#000000"/>
<circle cx="139.69" cy="278.34" r="1.75" fill="#000000"/>
<circle cx="144.37" cy="278.34" r="1.75" fill="#000000"/>
<circle cx="149.06" cy="278.57" r="1.75" fill="#000000"/>
<circle cx="153.74" cy="278.68" r="1.75" fill="#000000"/>
<circle cx="158.42" cy="278.8" r="1.75" fill="#000000"/>
<circle cx="163.11" cy="278.92" r="1.75" fill="#000000"/>
<circle cx="228.7" cy="404.71" r="1.75" fill="#000000"/>
<circle cx="233.38" cy="406.1" r="1.75" fill="#000000"/>
<circle cx="238.07" cy="406.1" r="1.75" fill="#000000"/>
<circle cx="242.75" cy="406.1" r="1.75" fill="#000000"/>
<circle cx="247.44" cy="406.1" r="1.75" fill="#000000"/>
<circle cx="252.12" cy="406.1" r="1.75" fill="#000000"/>
<path d="M92.83 269.88V267.1M90.93 267.1H94.73M97.52 271.27V267.1M95.62 267.1H99.42M102.2 271.27V267.1M100.3 267.1H104.1M106.89 272.66V267.8M104.99 267.8H108.79M111.57 273.36V268.49M109.67 268.49H113.47M116.26 274.05V269.19M114.36 269.19H118.16M120.94 274.4V269.53M119.04 269.53H122.84M125.63 274.75V269.88M123.73 269.88H127.53M167.79 280.31V275.44M165.89 275.44H169.69M172.48 286.56V281.7M170.58 281.7H174.38M177.16 297.68V292.82M175.26 292.82H179.06M181.85 308.8V303.94M179.95 303.94H183.75M186.53 322.7V317.84M184.63 317.84H188.43M191.22 332.43V327.57M189.32 327.57H193.12M195.9 339.38V334.52M194 334.52H197.8M200.59 354.67V349.81M198.69 349.81H202.49M205.27 356.06V351.2M203.37 351.2H207.17M209.96 365.79V360.93M208.06 360.93H211.86M214.64 381.08V376.22M212.74 376.22H216.54M219.33 392.2V387.34M217.43 387.34H221.23M224.01 399.15V394.29M222.11 394.29H225.91" stroke="#000000" stroke-width="1.3" fill="none" stroke-linejoin="miter"/>
<path d="M50.67 267.1H55.35V267.1H60.04V267.1H64.72V267.1H69.41V267.1H74.09V267.1H78.78V267.1H83.47V268.49H88.15V269.88H92.83V269.88H97.52V271.27H102.2V271.27H106.89V272.66H111.57V273.36H116.26V274.05H120.94V274.4H125.63V274.75H130.31V275.44H135V278.22H139.69V278.34H144.37V278.34H149.06V278.57H153.74V278.68H158.42V278.8H163.11V278.92H167.79V280.31H172.48V286.56H177.16V297.68H181.85V308.8H186.53V322.7H191.22V332.43H195.9V339.38H200.59V354.67H205.27V356.06H209.96V365.79H214.64V381.08H219.33V392.2H224.01V399.15H228.7V404.71H233.38V406.1H238.07V406.1H242.75V406.1H247.44V406.1H252.12V406.1" stroke="#000000" stroke-width="1.7" fill="none" stroke-linejoin="miter"/>
<path d="M41.3 266.45V406.1H323.05" stroke="#000000" stroke-width="1.35" fill="none" stroke-linejoin="miter"/>
<line x1="38.1" y1="406.1" x2="41.3" y2="406.1" stroke="#000000" stroke-width="1.3"/>
<text x="38.9" y="408.7" font-size="13.3" text-anchor="end" fill="#101010">0</text>
<line x1="38.1" y1="371.35" x2="41.3" y2="371.35" stroke="#000000" stroke-width="1.3"/>
<text x="38.9" y="373.95" font-size="13.3" text-anchor="end" fill="#101010">25</text>
<line x1="38.1" y1="336.6" x2="41.3" y2="336.6" stroke="#000000" stroke-width="1.3"/>
<text x="38.9" y="339.2" font-size="13.3" text-anchor="end" fill="#101010">50</text>
<line x1="38.1" y1="301.85" x2="41.3" y2="301.85" stroke="#000000" stroke-width="1.3"/>
<text x="38.9" y="304.45" font-size="13.3" text-anchor="end" fill="#101010">75</text>
<line x1="38.1" y1="267.1" x2="41.3" y2="267.1" stroke="#000000" stroke-width="1.3"/>
<text x="38.9" y="269.7" font-size="13.3" text-anchor="end" fill="#101010">100</text>
<line x1="41.3" y1="406.1" x2="41.3" y2="409.4" stroke="#000000" stroke-width="1.3"/>
<text x="40" y="424.1" font-size="13.4" text-anchor="middle" fill="#101010">0</text>
<line x1="64.72" y1="406.1" x2="64.72" y2="409.4" stroke="#000000" stroke-width="1.3"/>
<line x1="88.15" y1="406.1" x2="88.15" y2="409.4" stroke="#000000" stroke-width="1.3"/>
<text x="87.45" y="424.1" font-size="13.4" text-anchor="middle" fill="#101010">10</text>
<line x1="111.57" y1="406.1" x2="111.57" y2="409.4" stroke="#000000" stroke-width="1.3"/>
<line x1="135" y1="406.1" x2="135" y2="409.4" stroke="#000000" stroke-width="1.3"/>
<text x="134.9" y="424.1" font-size="13.4" text-anchor="middle" fill="#101010">20</text>
<line x1="158.42" y1="406.1" x2="158.42" y2="409.4" stroke="#000000" stroke-width="1.3"/>
<line x1="181.85" y1="406.1" x2="181.85" y2="409.4" stroke="#000000" stroke-width="1.3"/>
<text x="182.35" y="424.1" font-size="13.4" text-anchor="middle" fill="#101010">30</text>
<line x1="205.27" y1="406.1" x2="205.27" y2="409.4" stroke="#000000" stroke-width="1.3"/>
<line x1="228.7" y1="406.1" x2="228.7" y2="409.4" stroke="#000000" stroke-width="1.3"/>
<text x="229.8" y="424.1" font-size="13.4" text-anchor="middle" fill="#101010">40</text>
<line x1="252.12" y1="406.1" x2="252.12" y2="409.4" stroke="#000000" stroke-width="1.3"/>
<line x1="275.55" y1="406.1" x2="275.55" y2="409.4" stroke="#000000" stroke-width="1.3"/>
<text x="277.25" y="424.1" font-size="13.4" text-anchor="middle" fill="#101010">50</text>
<line x1="298.97" y1="406.1" x2="298.97" y2="409.4" stroke="#000000" stroke-width="1.3"/>
<line x1="322.4" y1="406.1" x2="322.4" y2="409.4" stroke="#000000" stroke-width="1.3"/>
<text x="324.7" y="424.1" font-size="13.4" text-anchor="middle" fill="#101010">60</text>
<text x="13.5" y="329.7" font-size="14" text-anchor="middle" transform="rotate(-90 13.5 329.7)" textLength="74.5" lengthAdjust="spacingAndGlyphs" fill="#101010">Survival (%)</text>
<text x="186.4" y="437" font-size="14" text-anchor="middle" textLength="137.9" lengthAdjust="spacingAndGlyphs" fill="#101010">Days after Emergence</text>
<text x="3.6" y="245.8" font-size="21.5" fill="#101010">c</text>
<text x="53.1" y="247.2" font-size="13.5" textLength="250" lengthAdjust="spacingAndGlyphs" fill="#101010">Females after mating and blood feeding</text>
<line x1="231.9" y1="262.4" x2="243.4" y2="262.4" stroke="#A87C48" stroke-width="1.3"/>
<circle cx="237.6" cy="262.4" r="1.3" fill="#A87C48"/>
<text x="249.2" y="266" font-size="13.5" fill="#101010" textLength="19.2" lengthAdjust="spacingAndGlyphs"><tspan>WT</tspan></text>
<line x1="231.9" y1="276.5" x2="243.4" y2="276.5" stroke="#000000" stroke-width="1.3"/>
<circle cx="237.6" cy="276.5" r="1.3" fill="#000000"/>
<text x="249.2" y="279.6" font-size="13.5" fill="#101010" textLength="60.6" lengthAdjust="spacingAndGlyphs"><tspan>Cas9</tspan> (ns)</text>
<line x1="231.9" y1="289.8" x2="243.4" y2="289.8" stroke="#38882A" stroke-width="1.3"/>
<circle cx="237.6" cy="289.8" r="1.3" fill="#38882A"/>
<text x="249.2" y="293.8" font-size="13.5" fill="#101010" textLength="75.2" lengthAdjust="spacingAndGlyphs"><tspan font-style="italic">GFP-L</tspan> (****)</text>
<line x1="231.9" y1="305.7" x2="243.4" y2="305.7" stroke="#FF50FF" stroke-width="1.3"/>
<circle cx="237.6" cy="305.7" r="1.3" fill="#FF50FF"/>
<text x="249.2" y="308.4" font-size="13.5" fill="#101010" textLength="69.7" lengthAdjust="spacingAndGlyphs"><tspan font-style="italic">RFP-Q</tspan>(***)</text>
<line x1="231.9" y1="320.8" x2="243.4" y2="320.8" stroke="#50FF14" stroke-width="1.3"/>
<circle cx="237.6" cy="320.8" r="1.3" fill="#50FF14"/>
<text x="249.2" y="323" font-size="13.5" fill="#101010" textLength="76.1" lengthAdjust="spacingAndGlyphs"><tspan font-style="italic">GFP-Q</tspan>(****)</text>
<path d="M65 251.6V258" stroke="#E8202A" stroke-width="1.3" fill="none" stroke-linejoin="miter"/>
<path d="M61.2 256.7L65 261.6L68.8 256.7Z" stroke="none" stroke-width="0" fill="#E8202A" stroke-linejoin="miter"/>
<path d="M44.6 486.52V713H662.5" stroke="#000000" stroke-width="1.4" fill="none" stroke-linejoin="miter"/>
<line x1="36.6" y1="713" x2="44.6" y2="713" stroke="#000000" stroke-width="1.3"/>
<text x="34.3" y="717.7" font-size="13" text-anchor="end" fill="#101010">0</text>
<line x1="36.6" y1="637.74" x2="44.6" y2="637.74" stroke="#000000" stroke-width="1.3"/>
<text x="31.2" y="642.44" font-size="13" text-anchor="end" fill="#101010">20</text>
<line x1="36.6" y1="562.48" x2="44.6" y2="562.48" stroke="#000000" stroke-width="1.3"/>
<text x="33.5" y="567.18" font-size="13" text-anchor="end" fill="#101010">40</text>
<line x1="36.6" y1="487.22" x2="44.6" y2="487.22" stroke="#000000" stroke-width="1.3"/>
<text x="33.6" y="491.92" font-size="13" text-anchor="end" fill="#101010">60</text>
<text x="13" y="586.5" font-size="13.3" text-anchor="middle" transform="rotate(-90 13 586.5)" textLength="107.5" lengthAdjust="spacingAndGlyphs" fill="#101010">Pupation Rate (%)</text>
<text x="2.8" y="480.5" font-size="21.5" fill="#101010">d</text>
<line x1="76.5" y1="713" x2="76.5" y2="720.5" stroke="#000000" stroke-width="1.3"/>
<text x="77" y="735.4" font-size="13" text-anchor="middle" fill="#101010">7</text>
<path d="M76.5 712.44V709.24M73.3 709.24H79.7" stroke="#000000" stroke-width="1.4" fill="none" stroke-linejoin="miter"/>
<rect x="71.4" y="712.44" width="10.2" height="0.06" fill="#38882A"/>
<path d="M99.8 711.12V705.47M96.6 705.47H103" stroke="#000000" stroke-width="1.4" fill="none" stroke-linejoin="miter"/>
<rect x="94.7" y="711.12" width="10.2" height="1.38" fill="#50FF14"/>
<line x1="145.8" y1="713" x2="145.8" y2="720.5" stroke="#000000" stroke-width="1.3"/>
<text x="146.3" y="735.4" font-size="13" text-anchor="middle" fill="#101010">8</text>
<path d="M134.15 695.31V684.4M130.95 684.4H137.35" stroke="#000000" stroke-width="1.4" fill="none" stroke-linejoin="miter"/>
<rect x="129.05" y="695.31" width="10.2" height="17.19" fill="#000000"/>
<path d="M145.8 697.57V678M142.6 678H149" stroke="#000000" stroke-width="1.4" fill="none" stroke-linejoin="miter"/>
<rect x="140.7" y="697.57" width="10.2" height="14.93" fill="#38882A"/>
<path d="M157.45 692.68V673.11M154.25 673.11H160.65" stroke="#000000" stroke-width="1.4" fill="none" stroke-linejoin="miter"/>
<rect x="152.35" y="692.68" width="10.2" height="19.82" fill="#FF50FF"/>
<path d="M169.1 661.07V594.84M165.9 594.84H172.3" stroke="#000000" stroke-width="1.4" fill="none" stroke-linejoin="miter"/>
<rect x="164" y="661.07" width="10.2" height="51.43" fill="#50FF14"/>
<line x1="215.1" y1="713" x2="215.1" y2="720.5" stroke="#000000" stroke-width="1.3"/>
<text x="215.6" y="735.4" font-size="13" text-anchor="middle" fill="#101010">9</text>
<path d="M191.8 551.94V497.76M188.6 497.76H195" stroke="#000000" stroke-width="1.4" fill="none" stroke-linejoin="miter"/>
<rect x="186.7" y="551.94" width="10.2" height="160.56" fill="#A87C48"/>
<path d="M203.45 637.55V627.58M200.25 627.58H206.65" stroke="#000000" stroke-width="1.4" fill="none" stroke-linejoin="miter"/>
<rect x="198.35" y="637.55" width="10.2" height="74.95" fill="#000000"/>
<path d="M215.1 561.73V508.29M211.9 508.29H218.3" stroke="#000000" stroke-width="1.4" fill="none" stroke-linejoin="miter"/>
<rect x="210" y="561.73" width="10.2" height="150.77" fill="#38882A"/>
<path d="M226.75 548.93V533.88M223.55 533.88H229.95" stroke="#000000" stroke-width="1.4" fill="none" stroke-linejoin="miter"/>
<rect x="221.65" y="548.93" width="10.2" height="163.57" fill="#FF50FF"/>
<path d="M238.4 617.42V574.52M235.2 574.52H241.6" stroke="#000000" stroke-width="1.4" fill="none" stroke-linejoin="miter"/>
<rect x="233.3" y="617.42" width="10.2" height="95.08" fill="#50FF14"/>
<line x1="284.4" y1="713" x2="284.4" y2="720.5" stroke="#000000" stroke-width="1.3"/>
<text x="284.9" y="735.4" font-size="13" text-anchor="middle" fill="#101010">10</text>
<path d="M261.1 584.68V572.26M257.9 572.26H264.3" stroke="#000000" stroke-width="1.4" fill="none" stroke-linejoin="miter"/>
<rect x="256" y="584.68" width="10.2" height="127.82" fill="#A87C48"/>
<path d="M272.75 607.26V597.1M269.55 597.1H275.95" stroke="#000000" stroke-width="1.4" fill="none" stroke-linejoin="miter"/>
<rect x="267.65" y="607.26" width="10.2" height="105.24" fill="#000000"/>
<path d="M284.4 588.44V549.31M281.2 549.31H287.6" stroke="#000000" stroke-width="1.4" fill="none" stroke-linejoin="miter"/>
<rect x="279.3" y="588.44" width="10.2" height="124.06" fill="#38882A"/>
<path d="M296.05 630.97V612.9M292.85 612.9H299.25" stroke="#000000" stroke-width="1.4" fill="none" stroke-linejoin="miter"/>
<rect x="290.95" y="630.97" width="10.2" height="81.53" fill="#FF50FF"/>
<path d="M307.7 564.36V521.46M304.5 521.46H310.9" stroke="#000000" stroke-width="1.4" fill="none" stroke-linejoin="miter"/>
<rect x="302.6" y="564.36" width="10.2" height="148.14" fill="#50FF14"/>
<line x1="353.7" y1="713" x2="353.7" y2="720.5" stroke="#000000" stroke-width="1.3"/>
<text x="354.2" y="735.4" font-size="13" text-anchor="middle" fill="#101010">11</text>
<path d="M330.4 645.64V595.59M327.2 595.59H333.6" stroke="#000000" stroke-width="1.4" fill="none" stroke-linejoin="miter"/>
<rect x="325.3" y="645.64" width="10.2" height="66.86" fill="#A87C48"/>
<path d="M342.05 619.3V608.39M338.85 608.39H345.25" stroke="#000000" stroke-width="1.4" fill="none" stroke-linejoin="miter"/>
<rect x="336.95" y="619.3" width="10.2" height="93.2" fill="#000000"/>
<path d="M353.7 674.24V654.3M350.5 654.3H356.9" stroke="#000000" stroke-width="1.4" fill="none" stroke-linejoin="miter"/>
<rect x="348.6" y="674.24" width="10.2" height="38.26" fill="#38882A"/>
<path d="M365.35 689.67V681.01M362.15 681.01H368.55" stroke="#000000" stroke-width="1.4" fill="none" stroke-linejoin="miter"/>
<rect x="360.25" y="689.67" width="10.2" height="22.83" fill="#FF50FF"/>
<path d="M377 660.32V618.55M373.8 618.55H380.2" stroke="#000000" stroke-width="1.4" fill="none" stroke-linejoin="miter"/>
<rect x="371.9" y="660.32" width="10.2" height="52.18" fill="#50FF14"/>
<line x1="423" y1="713" x2="423" y2="720.5" stroke="#000000" stroke-width="1.3"/>
<text x="423.5" y="735.4" font-size="13" text-anchor="middle" fill="#101010">12</text>
<path d="M399.7 704.72V695.69M396.5 695.69H402.9" stroke="#000000" stroke-width="1.4" fill="none" stroke-linejoin="miter"/>
<rect x="394.6" y="704.72" width="10.2" height="7.78" fill="#A87C48"/>
<path d="M411.35 674.99V658.81M408.15 658.81H414.55" stroke="#000000" stroke-width="1.4" fill="none" stroke-linejoin="miter"/>
<rect x="406.25" y="674.99" width="10.2" height="37.51" fill="#000000"/>
<path d="M423 681.01V655.8M419.8 655.8H426.2" stroke="#000000" stroke-width="1.4" fill="none" stroke-linejoin="miter"/>
<rect x="417.9" y="681.01" width="10.2" height="31.49" fill="#38882A"/>
<path d="M434.65 702.84V700.21M431.45 700.21H437.85" stroke="#000000" stroke-width="1.4" fill="none" stroke-linejoin="miter"/>
<rect x="429.55" y="702.84" width="10.2" height="9.66" fill="#FF50FF"/>
<path d="M446.3 699.45V686.66M443.1 686.66H449.5" stroke="#000000" stroke-width="1.4" fill="none" stroke-linejoin="miter"/>
<rect x="441.2" y="699.45" width="10.2" height="13.05" fill="#50FF14"/>
<line x1="492.3" y1="713" x2="492.3" y2="720.5" stroke="#000000" stroke-width="1.3"/>
<text x="492.8" y="735.4" font-size="13" text-anchor="middle" fill="#101010">13</text>
<path d="M480.65 699.45V687.41M477.45 687.41H483.85" stroke="#000000" stroke-width="1.4" fill="none" stroke-linejoin="miter"/>
<rect x="475.55" y="699.45" width="10.2" height="13.05" fill="#000000"/>
<path d="M492.3 709.61V701.71M489.1 701.71H495.5" stroke="#000000" stroke-width="1.4" fill="none" stroke-linejoin="miter"/>
<rect x="487.2" y="709.61" width="10.2" height="2.89" fill="#38882A"/>
<path d="M503.95 708.11V705.1M500.75 705.1H507.15" stroke="#000000" stroke-width="1.4" fill="none" stroke-linejoin="miter"/>
<rect x="498.85" y="708.11" width="10.2" height="4.39" fill="#FF50FF"/>
<path d="M515.6 710.74V707.36M512.4 707.36H518.8" stroke="#000000" stroke-width="1.4" fill="none" stroke-linejoin="miter"/>
<rect x="510.5" y="710.74" width="10.2" height="1.76" fill="#50FF14"/>
<line x1="561.6" y1="713" x2="561.6" y2="720.5" stroke="#000000" stroke-width="1.3"/>
<text x="562.1" y="735.4" font-size="13" text-anchor="middle" fill="#101010">14</text>
<path d="M549.95 711.87V709.24M546.75 709.24H553.15" stroke="#000000" stroke-width="1.4" fill="none" stroke-linejoin="miter"/>
<rect x="544.85" y="711.87" width="10.2" height="0.63" fill="#000000"/>
<path d="M584.9 711.87V709.24M581.7 709.24H588.1" stroke="#000000" stroke-width="1.4" fill="none" stroke-linejoin="miter"/>
<rect x="579.8" y="711.87" width="10.2" height="0.63" fill="#50FF14"/>
<line x1="630.9" y1="713" x2="630.9" y2="720.5" stroke="#000000" stroke-width="1.3"/>
<text x="631.4" y="735.4" font-size="13" text-anchor="middle" fill="#101010">15</text>
<path d="M619.25 711.12V707.73M616.05 707.73H622.45" stroke="#000000" stroke-width="1.4" fill="none" stroke-linejoin="miter"/>
<rect x="614.15" y="711.12" width="10.2" height="1.38" fill="#000000"/>
<text x="339.8" y="750.2" font-size="13" text-anchor="middle" textLength="133.7" lengthAdjust="spacingAndGlyphs" fill="#101010">Days after Oviposition</text>
<path d="M54.5 708.1V705.5H67.6V708.1" stroke="#000000" stroke-width="1.4" fill="none" stroke-linejoin="miter"/>
<text x="62.2" y="704.3" font-size="13.5" text-anchor="middle" fill="#101010">ns</text>
<path d="M54.5 694.1V691.5H79.3V705.5" stroke="#000000" stroke-width="1.4" fill="none" stroke-linejoin="miter"/>
<text x="66.9" y="689.9" font-size="13.5" text-anchor="middle" fill="#101010">ns</text>
<path d="M54.5 680.6V678H90.9V706.7" stroke="#000000" stroke-width="1.4" fill="none" stroke-linejoin="miter"/>
<text x="72.7" y="676.3" font-size="13.5" text-anchor="middle" fill="#101010">ns</text>
<path d="M54.5 666.1V663.5H100.7V702" stroke="#000000" stroke-width="1.4" fill="none" stroke-linejoin="miter"/>
<text x="77.4" y="661.6" font-size="13.5" text-anchor="middle" fill="#101010">ns</text>
<path d="M121.1 680.1V677.5H134.6V680.1" stroke="#000000" stroke-width="1.4" fill="none" stroke-linejoin="miter"/>
<text x="128.8" y="674.7" font-size="13.5" text-anchor="middle" fill="#101010">ns</text>
<path d="M121.1 664.9V662.3H145.6V674" stroke="#000000" stroke-width="1.4" fill="none" stroke-linejoin="miter"/>
<text x="133.5" y="660.4" font-size="13.5" text-anchor="middle" fill="#101010">ns</text>
<path d="M121.1 648.6V646H157.5V668" stroke="#000000" stroke-width="1.4" fill="none" stroke-linejoin="miter"/>
<text x="140" y="643" font-size="13.5" text-anchor="middle" fill="#101010">ns</text>
<path d="M121.1 637.8V585.2H167.3V587.8" stroke="#000000" stroke-width="1.4" fill="none" stroke-linejoin="miter"/>
<text x="144.4" y="582.4" font-size="13.5" text-anchor="middle" fill="#101010">ns</text>
<path d="M189.2 493.6V491H201.5V621.2" stroke="#000000" stroke-width="1.4" fill="none" stroke-linejoin="miter"/>
<text x="196.4" y="489.5" font-size="13.5" text-anchor="middle" fill="#101010">ns</text>
<path d="M189.2 482.8V480.2H213.7V502.6" stroke="#000000" stroke-width="1.4" fill="none" stroke-linejoin="miter"/>
<text x="201.5" y="478" font-size="13.5" text-anchor="middle" fill="#101010">ns</text>
<path d="M189.2 471.8V469.2H226.1V526.4" stroke="#000000" stroke-width="1.4" fill="none" stroke-linejoin="miter"/>
<text x="207.4" y="467.3" font-size="13.5" text-anchor="middle" fill="#101010">ns</text>
<path d="M189.2 459.6V457H235.4V566.2" stroke="#000000" stroke-width="1.4" fill="none" stroke-linejoin="miter"/>
<text x="212" y="455.6" font-size="13.5" text-anchor="middle" fill="#101010">ns</text>
<path d="M257.6 567.6V565H270.5V567.6" stroke="#000000" stroke-width="1.4" fill="none" stroke-linejoin="miter"/>
<text x="265.3" y="560.3" font-size="13.5" text-anchor="middle" fill="#101010">ns</text>
<path d="M257.6 542.6V540H282.9V542.6" stroke="#000000" stroke-width="1.4" fill="none" stroke-linejoin="miter"/>
<text x="270.5" y="537.7" font-size="13.5" text-anchor="middle" fill="#101010">ns</text>
<path d="M257.6 531.4V528.8H295V531.4" stroke="#000000" stroke-width="1.4" fill="none" stroke-linejoin="miter"/>
<text x="276.8" y="527" font-size="13.5" text-anchor="middle" fill="#101010">ns</text>
<path d="M257.6 520.6V508.5H304.3V511.1" stroke="#000000" stroke-width="1.4" fill="none" stroke-linejoin="miter"/>
<text x="281" y="506.6" font-size="13.5" text-anchor="middle" fill="#101010">ns</text>
<path d="M329.2 590.8V588.2H342V603" stroke="#000000" stroke-width="1.4" fill="none" stroke-linejoin="miter"/>
<text x="336.9" y="587" font-size="13.5" text-anchor="middle" fill="#101010">ns</text>
<path d="M329.2 579.1V576.5H353.7V643.8" stroke="#000000" stroke-width="1.4" fill="none" stroke-linejoin="miter"/>
<text x="341.5" y="575.4" font-size="13.5" text-anchor="middle" fill="#101010">ns</text>
<path d="M329.2 568.6V566H366V669.5" stroke="#000000" stroke-width="1.4" fill="none" stroke-linejoin="miter"/>
<text x="348" y="564.4" font-size="13.5" text-anchor="middle" fill="#101010">ns</text>
<path d="M329.2 557.2V554.6H375.4V606.4" stroke="#000000" stroke-width="1.4" fill="none" stroke-linejoin="miter"/>
<text x="352.5" y="552.7" font-size="13.5" text-anchor="middle" fill="#101010">ns</text>
<path d="M399.3 690V650.1H411.6V652.7" stroke="#000000" stroke-width="1.4" fill="none" stroke-linejoin="miter"/>
<text x="407" y="649.2" font-size="13.5" text-anchor="middle" fill="#101010">ns</text>
<path d="M399.3 641.8V639.2H423.8V650.5" stroke="#000000" stroke-width="1.4" fill="none" stroke-linejoin="miter"/>
<text x="412.1" y="637.5" font-size="13.5" text-anchor="middle" fill="#101010">ns</text>
<path d="M399.3 631.2V628.6H436.9V693.5" stroke="#000000" stroke-width="1.4" fill="none" stroke-linejoin="miter"/>
<text x="418.2" y="626.8" font-size="13.5" text-anchor="middle" fill="#101010">ns</text>
<path d="M399.3 619.1V616.5H445.5V680.6" stroke="#000000" stroke-width="1.4" fill="none" stroke-linejoin="miter"/>
<text x="422.9" y="615.1" font-size="13.5" text-anchor="middle" fill="#101010">ns</text>
<path d="M465.7 706.3V682.2H479.3V684.8" stroke="#000000" stroke-width="1.4" fill="none" stroke-linejoin="miter"/>
<text x="473.5" y="680.6" font-size="13.5" text-anchor="middle" fill="#101010">ns</text>
<path d="M465.7 673.4V670.8H490.3V698.1" stroke="#000000" stroke-width="1.4" fill="none" stroke-linejoin="miter"/>
<text x="478.1" y="669.4" font-size="13.5" text-anchor="middle" fill="#101010">ns</text>
<path d="M465.7 662.9V660.3H502.7V702.8" stroke="#000000" stroke-width="1.4" fill="none" stroke-linejoin="miter"/>
<text x="484.7" y="658.4" font-size="13.5" text-anchor="middle" fill="#101010">ns</text>
<path d="M465.7 651.2V648.6H512.5V705.1" stroke="#000000" stroke-width="1.4" fill="none" stroke-linejoin="miter"/>
<text x="489.1" y="646.7" font-size="13.5" text-anchor="middle" fill="#101010">ns</text>
<path d="M537.5 703.4V700.8H550.4V703.4" stroke="#000000" stroke-width="1.4" fill="none" stroke-linejoin="miter"/>
<text x="545" y="699.6" font-size="13.5" text-anchor="middle" fill="#101010">ns</text>
<path d="M537.5 692.9V690.3H562V692.9" stroke="#000000" stroke-width="1.4" fill="none" stroke-linejoin="miter"/>
<text x="550.4" y="688.4" font-size="13.5" text-anchor="middle" fill="#101010">ns</text>
<path d="M537.5 681.6V679H574.9V681.6" stroke="#000000" stroke-width="1.4" fill="none" stroke-linejoin="miter"/>
<text x="555.7" y="677.4" font-size="13.5" text-anchor="middle" fill="#101010">ns</text>
<path d="M537.5 670V667.4H583.6V670" stroke="#000000" stroke-width="1.4" fill="none" stroke-linejoin="miter"/>
<text x="560.4" y="665.7" font-size="13.5" text-anchor="middle" fill="#101010">ns</text>
<path d="M605.7 703.4V700.8H618.8V703.4" stroke="#000000" stroke-width="1.4" fill="none" stroke-linejoin="miter"/>
<text x="611.8" y="703.5" font-size="13.5" text-anchor="middle" fill="#101010">*</text>
<path d="M605.7 692.9V690.3H630.5V706" stroke="#000000" stroke-width="1.4" fill="none" stroke-linejoin="miter"/>
<text x="618.1" y="688.4" font-size="13.5" text-anchor="middle" fill="#101010">ns</text>
<path d="M605.7 681.6V679H642.7V705.2" stroke="#000000" stroke-width="1.4" fill="none" stroke-linejoin="miter"/>
<text x="624.4" y="677.4" font-size="13.5" text-anchor="middle" fill="#101010">ns</text>
<path d="M605.7 670V667.4H652.5V704.3" stroke="#000000" stroke-width="1.4" fill="none" stroke-linejoin="miter"/>
<text x="629.1" y="665.7" font-size="13.5" text-anchor="middle" fill="#101010">ns</text>
<rect x="592.3" y="488.05" width="12.6" height="6.9" fill="#A87C48"/>
<text x="611.6" y="493.8" font-size="13.3" textLength="20.3" lengthAdjust="spacingAndGlyphs" fill="#101010">WT</text>
<rect x="592.3" y="503.15" width="12.6" height="6.9" fill="#000000"/>
<text x="611.6" y="509.4" font-size="13.3" textLength="31" lengthAdjust="spacingAndGlyphs" fill="#101010">Cas9</text>
<rect x="592.3" y="518.95" width="12.6" height="6.9" fill="#38882A"/>
<text x="611.6" y="525.4" font-size="13.3" font-style="italic" textLength="40" lengthAdjust="spacingAndGlyphs" fill="#101010">GFP-L</text>
<rect x="592.3" y="534.25" width="12.6" height="6.9" fill="#50FF14"/>
<text x="611.6" y="541.3" font-size="13.3" font-style="italic" textLength="44" lengthAdjust="spacingAndGlyphs" fill="#101010">GFP-Q</text>
<rect x="592.3" y="550.45" width="12.6" height="6.9" fill="#FF50FF"/>
<text x="611.6" y="557.6" font-size="13.3" font-style="italic" textLength="43.5" lengthAdjust="spacingAndGlyphs" fill="#101010">RFP-Q</text>
<path d="M69.6 799.25V944.3H166" stroke="#000000" stroke-width="1.35" fill="none" stroke-linejoin="miter"/>
<line x1="64.2" y1="944.3" x2="69.6" y2="944.3" stroke="#000000" stroke-width="1.3"/>
<text x="57.4" y="948.8" font-size="13.3" text-anchor="end" fill="#101010">0</text>
<line x1="64.2" y1="908.2" x2="69.6" y2="908.2" stroke="#000000" stroke-width="1.3"/>
<text x="59.9" y="912.7" font-size="13.3" text-anchor="end" fill="#101010">25</text>
<line x1="64.2" y1="872.1" x2="69.6" y2="872.1" stroke="#000000" stroke-width="1.3"/>
<text x="59.9" y="876.6" font-size="13.3" text-anchor="end" fill="#101010">50</text>
<line x1="64.2" y1="836" x2="69.6" y2="836" stroke="#000000" stroke-width="1.3"/>
<text x="59.9" y="840.5" font-size="13.3" text-anchor="end" fill="#101010">75</text>
<line x1="64.2" y1="799.9" x2="69.6" y2="799.9" stroke="#000000" stroke-width="1.3"/>
<text x="61.2" y="804.4" font-size="13.3" text-anchor="end" fill="#101010">100</text>
<text x="35.4" y="870.6" font-size="13.7" text-anchor="middle" transform="rotate(-90 35.4 870.6)" textLength="111.7" lengthAdjust="spacingAndGlyphs" fill="#101010">Pupation Rate (%)</text>
<text x="2.6" y="773.7" font-size="21.5" fill="#101010">e</text>
<path d="M84.9 804.09V802.35M80.65 802.35H89.15" stroke="#000000" stroke-width="1.4" fill="none" stroke-linejoin="miter"/>
<rect x="77.8" y="804.09" width="14.2" height="139.71" fill="#A87C48"/>
<path d="M101.48 809.72V808.28M97.23 808.28H105.73" stroke="#000000" stroke-width="1.4" fill="none" stroke-linejoin="miter"/>
<rect x="94.38" y="809.72" width="14.2" height="134.08" fill="#000000"/>
<path d="M118.06 804.09V802.64M113.81 802.64H122.31" stroke="#000000" stroke-width="1.4" fill="none" stroke-linejoin="miter"/>
<rect x="110.96" y="804.09" width="14.2" height="139.71" fill="#38882A"/>
<path d="M134.64 827.19V815.35M130.39 815.35H138.89" stroke="#000000" stroke-width="1.4" fill="none" stroke-linejoin="miter"/>
<rect x="127.54" y="827.19" width="14.2" height="116.61" fill="#FF50FF"/>
<path d="M151.22 804.09V801.06M146.97 801.06H155.47" stroke="#000000" stroke-width="1.4" fill="none" stroke-linejoin="miter"/>
<rect x="144.12" y="804.09" width="14.2" height="139.71" fill="#50FF14"/>
<path d="M83.2 800.8V798.3H101.2V800.8" stroke="#000000" stroke-width="1.4" fill="none" stroke-linejoin="miter"/>
<text x="93.3" y="796.9" font-size="14.5" text-anchor="middle" fill="#101010">ns</text>
<path d="M83.2 798.3V788.2H120.1V790.8" stroke="#000000" stroke-width="1.4" fill="none" stroke-linejoin="miter"/>
<text x="101.2" y="787" font-size="14.5" text-anchor="middle" fill="#101010">ns</text>
<path d="M83.2 788.2V773.5H136.5V788.2" stroke="#000000" stroke-width="1.4" fill="none" stroke-linejoin="miter"/>
<text x="118.3" y="777.4" font-size="14.5" text-anchor="middle" fill="#101010">***</text>
<path d="M83.2 773.5V763.7H152.1V788.2" stroke="#000000" stroke-width="1.4" fill="none" stroke-linejoin="miter"/>
<text x="133" y="761.4" font-size="14.5" text-anchor="middle" fill="#101010">ns</text>
<rect x="198.4" y="875.4" width="13.1" height="7" fill="#A87C48"/>
<text x="217.8" y="881.4" font-size="13.3" textLength="20.3" lengthAdjust="spacingAndGlyphs" fill="#101010">WT</text>
<rect x="198.4" y="890.7" width="13.1" height="7" fill="#000000"/>
<text x="217.8" y="897.1" font-size="13.3" textLength="31" lengthAdjust="spacingAndGlyphs" fill="#101010">Cas9</text>
<rect x="198.4" y="906.4" width="13.1" height="7" fill="#38882A"/>
<text x="217.8" y="913.1" font-size="13.3" font-style="italic" textLength="40" lengthAdjust="spacingAndGlyphs" fill="#101010">GFP-L</text>
<rect x="198.4" y="921.7" width="13.1" height="7" fill="#50FF14"/>
<text x="217.8" y="928.7" font-size="13.3" font-style="italic" textLength="44" lengthAdjust="spacingAndGlyphs" fill="#101010">GFP-Q</text>
<rect x="198.4" y="938" width="13.1" height="7" fill="#FF50FF"/>
<text x="217.8" y="945" font-size="13.3" font-style="italic" textLength="43.5" lengthAdjust="spacingAndGlyphs" fill="#101010">RFP-Q</text>
<path d="M398.1 832.65V945.5H610.2" stroke="#000000" stroke-width="1.35" fill="none" stroke-linejoin="miter"/>
<line x1="392.6" y1="945.5" x2="398.1" y2="945.5" stroke="#000000" stroke-width="1.3"/>
<text x="386.8" y="950" font-size="13.3" text-anchor="end" fill="#101010">0</text>
<line x1="392.6" y1="917.45" x2="398.1" y2="917.45" stroke="#000000" stroke-width="1.3"/>
<text x="390.4" y="921.95" font-size="13.3" text-anchor="end" fill="#101010">25</text>
<line x1="392.6" y1="889.4" x2="398.1" y2="889.4" stroke="#000000" stroke-width="1.3"/>
<text x="390.4" y="893.9" font-size="13.3" text-anchor="end" fill="#101010">50</text>
<line x1="392.6" y1="861.35" x2="398.1" y2="861.35" stroke="#000000" stroke-width="1.3"/>
<text x="390.4" y="865.85" font-size="13.3" text-anchor="end" fill="#101010">75</text>
<line x1="392.6" y1="833.3" x2="398.1" y2="833.3" stroke="#000000" stroke-width="1.3"/>
<text x="391.6" y="837.8" font-size="13.3" text-anchor="end" fill="#101010">100</text>
<text x="367.1" y="879.8" font-size="13.7" text-anchor="middle" transform="rotate(-90 367.1 879.8)" textLength="127.8" lengthAdjust="spacingAndGlyphs" fill="#101010">Emergence Rate (%)</text>
<text x="360.2" y="773.7" font-size="21.5" fill="#101010">f</text>
<path d="M414.95 836.78V833.3M410.7 833.3H419.2" stroke="#000000" stroke-width="1.4" fill="none" stroke-linejoin="miter"/>
<rect x="407.2" y="836.78" width="15.5" height="108.22" fill="#A87C48"/>
<path d="M433.03 851.81V836.33M428.78 836.33H437.28" stroke="#000000" stroke-width="1.4" fill="none" stroke-linejoin="miter"/>
<rect x="425.28" y="851.81" width="15.5" height="93.19" fill="#000000"/>
<path d="M451.11 850.35V842.84M446.86 842.84H455.36" stroke="#000000" stroke-width="1.4" fill="none" stroke-linejoin="miter"/>
<rect x="443.36" y="850.35" width="15.5" height="94.65" fill="#38882A"/>
<path d="M469.19 856.3V837.79M464.94 837.79H473.44" stroke="#000000" stroke-width="1.4" fill="none" stroke-linejoin="miter"/>
<rect x="461.44" y="856.3" width="15.5" height="88.7" fill="#FF50FF"/>
<path d="M487.27 849.34V841.83M483.02 841.83H491.52" stroke="#000000" stroke-width="1.4" fill="none" stroke-linejoin="miter"/>
<rect x="479.52" y="849.34" width="15.5" height="95.66" fill="#50FF14"/>
<line x1="450.5" y1="945.5" x2="450.5" y2="950.1" stroke="#000000" stroke-width="1.3"/>
<path d="M521.35 871.22V861.24M517.1 861.24H525.6" stroke="#000000" stroke-width="1.4" fill="none" stroke-linejoin="miter"/>
<rect x="513.6" y="871.22" width="15.5" height="73.78" fill="#A87C48"/>
<path d="M539.43 866.4V856.41M535.18 856.41H543.68" stroke="#000000" stroke-width="1.4" fill="none" stroke-linejoin="miter"/>
<rect x="531.68" y="866.4" width="15.5" height="78.6" fill="#000000"/>
<path d="M557.51 837.45V833.41M553.26 833.41H561.76" stroke="#000000" stroke-width="1.4" fill="none" stroke-linejoin="miter"/>
<rect x="549.76" y="837.45" width="15.5" height="107.55" fill="#38882A"/>
<path d="M575.59 865.05V859.11M571.34 859.11H579.84" stroke="#000000" stroke-width="1.4" fill="none" stroke-linejoin="miter"/>
<rect x="567.84" y="865.05" width="15.5" height="79.95" fill="#FF50FF"/>
<path d="M593.67 852.93V834.76M589.42 834.76H597.92" stroke="#000000" stroke-width="1.4" fill="none" stroke-linejoin="miter"/>
<rect x="585.92" y="852.93" width="15.5" height="92.07" fill="#50FF14"/>
<line x1="556.9" y1="945.5" x2="556.9" y2="950.1" stroke="#000000" stroke-width="1.3"/>
<line x1="592.3" y1="945.5" x2="592.3" y2="948.8" stroke="#000000" stroke-width="1.2"/>
<text x="444.8" y="964.6" font-size="16" text-anchor="middle" textLength="62" lengthAdjust="spacingAndGlyphs" fill="#101010">Females</text>
<text x="558.5" y="964.6" font-size="16" text-anchor="middle" textLength="44" lengthAdjust="spacingAndGlyphs" fill="#101010">Males</text>
<path d="M415 833.5V830.3H431.9V832.9" stroke="#000000" stroke-width="1.4" fill="none" stroke-linejoin="miter"/>
<text x="423.7" y="827.6" font-size="13.5" text-anchor="middle" fill="#101010">ns</text>
<path d="M415 830.3V820.9H448.5V823.5" stroke="#000000" stroke-width="1.4" fill="none" stroke-linejoin="miter"/>
<text x="439.8" y="817.2" font-size="13.5" text-anchor="middle" fill="#101010">ns</text>
<path d="M415 820.9V809.7H464.6V824.6" stroke="#000000" stroke-width="1.4" fill="none" stroke-linejoin="miter"/>
<text x="448.5" y="807.7" font-size="13.5" text-anchor="middle" fill="#101010">ns</text>
<path d="M415 809.7V799.8H484.5V833.3" stroke="#000000" stroke-width="1.4" fill="none" stroke-linejoin="miter"/>
<text x="459.2" y="796.8" font-size="13.5" text-anchor="middle" fill="#101010">ns</text>
<path d="M519.4 849.2V847H541V849.2" stroke="#000000" stroke-width="1.4" fill="none" stroke-linejoin="miter"/>
<text x="529.7" y="845.1" font-size="13.5" text-anchor="middle" fill="#101010">ns</text>
<path d="M519.4 831.8V828.9H555.4V831.8" stroke="#000000" stroke-width="1.4" fill="none" stroke-linejoin="miter"/>
<text x="538.6" y="831" font-size="13.5" text-anchor="middle" fill="#101010">**</text>
<path d="M519.4 820V811H572.4V856.4" stroke="#000000" stroke-width="1.4" fill="none" stroke-linejoin="miter"/>
<text x="552.7" y="809.2" font-size="13.5" text-anchor="middle" fill="#101010">ns</text>
<path d="M519.4 806.5V797H591.8V830.8" stroke="#000000" stroke-width="1.4" fill="none" stroke-linejoin="miter"/>
<text x="566.7" y="794.8" font-size="13.5" text-anchor="middle" fill="#101010">ns</text>
<rect x="612.9" y="875.15" width="11.9" height="6.9" fill="#A87C48"/>
<text x="631.6" y="882.1" font-size="13.3" textLength="20.3" lengthAdjust="spacingAndGlyphs" fill="#101010">WT</text>
<rect x="612.9" y="890.75" width="11.9" height="6.9" fill="#000000"/>
<text x="631.6" y="897.5" font-size="13.3" textLength="31" lengthAdjust="spacingAndGlyphs" fill="#101010">Cas9</text>
<rect x="612.9" y="906.45" width="11.9" height="6.9" fill="#38882A"/>
<text x="631.6" y="913.1" font-size="13.3" font-style="italic" textLength="40" lengthAdjust="spacingAndGlyphs" fill="#101010">GFP-L</text>
<rect x="612.9" y="921.85" width="11.9" height="6.9" fill="#50FF14"/>
<text x="631.6" y="929.3" font-size="13.3" font-style="italic" textLength="44" lengthAdjust="spacingAndGlyphs" fill="#101010">GFP-Q</text>
<rect x="612.9" y="938.05" width="11.9" height="6.9" fill="#FF50FF"/>
<text x="631.6" y="945" font-size="13.3" font-style="italic" textLength="43.5" lengthAdjust="spacingAndGlyphs" fill="#101010">RFP-Q</text>
</svg>
</body></html>
